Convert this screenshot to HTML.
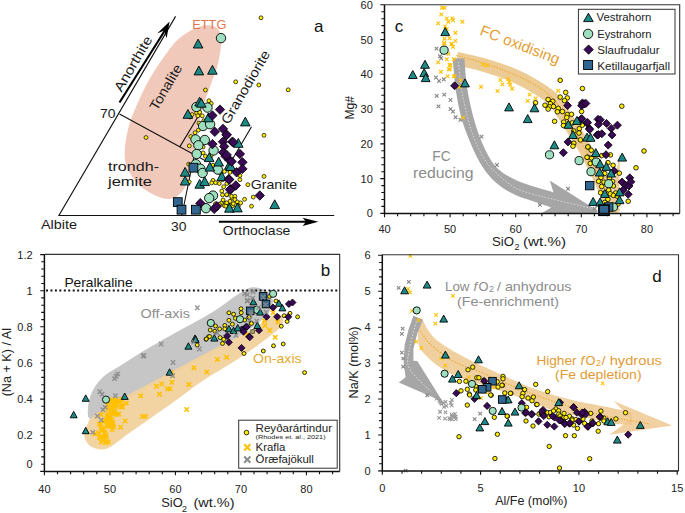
<!DOCTYPE html><html><head><meta charset="utf-8"><style>html,body{margin:0;padding:0;background:#fff;}svg{display:block;}text{font-family:"Liberation Sans",sans-serif;}</style></head><body>
<svg width="685" height="513" viewBox="0 0 685 513">
<rect width="685" height="513" fill="#fff"/>
<path d="M211.0 25.5C214.8 26.1 217.8 28.2 219.5 31.0C221.2 33.8 221.0 38.8 221.2 42.0C221.4 45.2 221.1 46.0 220.5 50.0C219.9 54.0 218.8 61.0 217.5 66.0C216.2 71.0 214.2 75.2 212.5 80.0C210.8 84.8 208.9 89.2 207.0 95.0C205.1 100.8 202.8 107.8 201.0 114.5C199.2 121.2 197.2 128.2 196.0 135.0C194.8 141.8 194.4 148.8 193.5 155.0C192.6 161.2 192.1 166.3 190.5 172.0C188.9 177.7 187.0 184.6 184.0 189.0C181.0 193.4 177.0 197.3 172.4 198.5C167.8 199.7 162.3 198.4 156.6 196.0C150.9 193.6 143.2 189.1 138.2 184.0C133.2 178.9 128.6 171.8 126.4 165.7C124.2 159.6 124.5 154.1 125.0 147.3C125.5 140.5 127.0 132.5 129.2 125.0C131.4 117.5 134.7 109.8 138.0 102.3C141.3 94.8 144.8 87.5 149.0 80.0C153.2 72.5 158.6 64.3 163.5 57.5C168.4 50.7 172.9 44.0 178.5 39.0C184.1 34.0 191.6 29.8 197.0 27.5C202.4 25.2 207.2 24.9 211.0 25.5Z" fill="#F1C9BA"/>
<path d="M175.6 16.4L58.9 215.5H334.2" stroke="#111" stroke-width="1.1" fill="none"/>
<path d="M119.5 113.9L205 160.5M180.1 146.4L199 115M181.8 215.5L194.5 154M251.5 126.7L232 160" stroke="#111" stroke-width="1.1" fill="none"/>
<path d="M119.5 102.5L165.5 29.5" stroke="#000" stroke-width="2.1" fill="none"/>
<path d="M169.6 21.6L157.2 33.5L164.2 30.6L166.6 38.2Z" fill="#000"/>
<path d="M218.9 221.7H306" stroke="#000" stroke-width="2.1" fill="none"/>
<path d="M318.4 221.7L302.6 217.8L306 221.7L302.6 226Z" fill="#000"/>
<text x="41" y="229.4" font-size="13.6" fill="#1a1a1a" text-anchor="start" textLength="36" lengthAdjust="spacingAndGlyphs">Albite</text>
<text x="178.7" y="230.6" font-size="13.6" fill="#1a1a1a" text-anchor="middle" textLength="15.5" lengthAdjust="spacingAndGlyphs">30</text>
<text x="107.8" y="118.0" font-size="13.6" fill="#1a1a1a" text-anchor="middle" textLength="15.5" lengthAdjust="spacingAndGlyphs">70</text>
<text x="222.8" y="235.2" font-size="13.6" fill="#1a1a1a" text-anchor="start" textLength="67.6" lengthAdjust="spacingAndGlyphs">Orthoclase</text>
<text x="209.3" y="28.6" font-size="13.6" fill="#E2774F" text-anchor="middle" textLength="34" lengthAdjust="spacingAndGlyphs">ETTG</text>
<text x="108" y="170.8" font-size="13.6" fill="#1a1a1a" text-anchor="start" textLength="51" lengthAdjust="spacingAndGlyphs">trondh-</text>
<text x="108" y="186.3" font-size="13.6" fill="#1a1a1a" text-anchor="start" textLength="44" lengthAdjust="spacingAndGlyphs">jemite</text>
<text x="250.8" y="189.4" font-size="13.6" fill="#1a1a1a" text-anchor="start" textLength="46.3" lengthAdjust="spacingAndGlyphs">Granite</text>
<text x="137.2" y="66.0" font-size="13.6" fill="#1a1a1a" text-anchor="middle" textLength="62" lengthAdjust="spacingAndGlyphs" transform="rotate(-59.6 137.2 66.0)">Anorthite</text>
<text x="169.8" y="89.6" font-size="13.6" fill="#1a1a1a" text-anchor="middle" textLength="51" lengthAdjust="spacingAndGlyphs" transform="rotate(-59.6 169.8 89.6)">Tonalite</text>
<text x="249.5" y="89.5" font-size="13.6" fill="#1a1a1a" text-anchor="middle" textLength="83" lengthAdjust="spacingAndGlyphs" transform="rotate(-59.6 249.5 89.5)">Granodiorite</text>
<path d="M90.0 419.0C87.2 417.6 87.7 412.0 88.0 407.5C88.3 403.0 89.5 397.1 92.0 392.0C94.5 386.9 97.7 381.8 103.0 377.0C108.3 372.2 116.5 368.1 123.8 363.4C131.1 358.7 137.8 354.4 147.0 349.0C156.2 343.6 168.2 336.9 179.0 330.8C189.8 324.8 202.7 318.1 211.5 312.7C220.3 307.3 226.6 302.1 232.0 298.4C237.4 294.7 241.0 292.4 244.2 290.6C247.4 288.8 248.5 287.9 251.0 287.5C253.5 287.1 256.2 287.2 259.0 288.0C261.8 288.8 265.7 289.7 268.0 292.0C270.3 294.3 273.3 298.0 273.0 302.0C272.7 306.0 271.5 310.3 266.0 316.0C260.5 321.7 252.7 327.8 240.0 336.0C227.3 344.2 206.7 355.7 190.0 365.0C173.3 374.3 154.2 383.5 140.0 392.0C125.8 400.5 113.3 411.5 105.0 416.0C96.7 420.5 92.8 420.4 90.0 419.0Z" fill="#C6C6C6"/>
<path d="M84.5 437.0C83.8 433.2 85.9 427.6 87.5 424.0C89.1 420.4 89.1 419.4 94.0 415.5C98.9 411.6 109.1 405.3 116.8 400.8C124.5 396.3 129.5 394.1 140.0 388.5C150.5 382.9 168.0 373.4 180.0 367.0C192.0 360.6 201.3 355.5 212.0 350.0C222.7 344.5 235.2 338.8 244.0 334.0C252.8 329.2 259.7 324.3 265.0 321.0C270.3 317.7 273.0 314.7 276.0 314.0C279.0 313.3 282.0 315.2 283.0 317.0C284.0 318.8 283.1 322.7 282.0 325.0C280.9 327.3 282.7 325.9 276.4 330.9C270.1 335.9 256.3 346.8 244.2 355.0C232.1 363.2 215.5 372.4 204.0 380.0C192.5 387.6 184.0 394.6 175.3 400.8C166.6 407.0 159.7 411.7 151.9 417.2C144.1 422.7 135.9 428.4 128.5 433.6C121.1 438.8 113.5 446.3 107.4 448.5C101.3 450.7 95.8 448.9 92.0 447.0C88.2 445.1 85.2 440.8 84.5 437.0Z" fill="#F1D29D" fill-opacity="0.95"/>
<path d="M46 290.6H339" stroke="#111" stroke-width="2" stroke-dasharray="2 2.45" fill="none"/>
<text x="64.4" y="286.8" font-size="13" fill="#111" text-anchor="start" textLength="68.3" lengthAdjust="spacingAndGlyphs">Peralkaline</text>
<text x="140.6" y="317.8" font-size="13" fill="#8C8C8C" text-anchor="start" textLength="49.4" lengthAdjust="spacingAndGlyphs">Off-axis</text>
<text x="253" y="363.4" font-size="13" fill="#E6A92C" text-anchor="start" textLength="48.6" lengthAdjust="spacingAndGlyphs">On-axis</text>
<path d="M456.5 58.5C460.8 59.5 472.4 61.7 482.0 64.5C491.6 67.3 504.6 71.5 514.0 75.5C523.4 79.5 531.6 84.3 538.3 88.5C545.0 92.7 549.7 95.6 554.3 100.5C558.9 105.4 561.2 110.6 566.0 118.0C570.8 125.4 577.7 135.7 583.0 145.0C588.3 154.3 593.5 164.5 598.0 174.0C602.5 183.5 607.3 195.5 610.0 202.0C612.7 208.5 613.3 211.2 614.0 213.0" stroke="#EDCB94" stroke-width="13.5" fill="none" stroke-linecap="butt"/>
<path d="M620 152L618.5 213.4L609 213.4Z" fill="#EDCB94"/>
<path d="M456.4 55.5C462.0 57.1 479.0 61.5 490.0 65.3C501.0 69.1 512.8 73.7 522.2 78.2C531.6 82.8 540.0 87.6 546.3 92.6C552.6 97.6 555.2 101.4 560.0 108.0C564.8 114.6 569.7 123.0 575.0 132.0C580.3 141.0 586.8 152.0 592.0 162.0C597.2 172.0 603.7 187.0 606.0 192.0" stroke="#F2A51C" stroke-width="1.1" stroke-dasharray="1.3 1.5" fill="none"/>
<path d="M452.7 58.5C453.2 63.5 454.2 78.8 455.6 88.7C457.1 98.6 458.9 108.9 461.4 118.0C463.9 127.1 467.2 135.3 470.7 143.4C474.2 151.5 478.1 160.1 482.4 166.7C486.7 173.3 491.0 178.3 496.4 183.0C501.8 187.7 508.0 191.5 515.0 194.8C522.0 198.1 532.5 200.9 538.5 203.0C544.5 205.1 549.2 206.8 551.3 207.6L541 213.4L596 213.4L598 211L549.8 180.5L553.5 192.5L550.0 191.3C546.1 190.1 533.8 186.9 526.8 184.3C519.8 181.8 513.5 179.3 508.0 176.0C502.5 172.7 498.3 169.8 494.0 164.4C489.7 159.0 485.7 150.8 482.4 143.4C479.1 136.0 476.7 129.1 474.2 120.0C471.7 110.9 468.9 99.0 467.3 88.7C465.7 78.5 464.9 63.5 464.4 58.5Z" fill="#A6A6A6"/>
<path d="M458.5 62.0C459.0 66.5 459.9 79.2 461.5 88.7C463.1 98.2 465.6 110.0 468.0 119.0C470.4 128.1 472.7 135.4 476.0 143.0C479.3 150.6 483.7 158.6 488.0 164.4C492.3 170.2 497.5 174.1 502.0 178.0C506.5 181.9 510.0 185.1 515.0 187.8C520.0 190.5 526.2 192.2 532.0 194.0C537.8 195.8 540.0 196.1 550.0 198.5C560.0 200.9 585.0 206.8 592.0 208.5" stroke="#E2E2E2" stroke-width="0.9" stroke-dasharray="1.4 1.9" fill="none"/>
<text x="479" y="34.5" font-size="15" fill="#E59F35" text-anchor="start" textLength="84" lengthAdjust="spacingAndGlyphs" transform="rotate(21 479 34.5)">FC oxidising</text>
<text x="441.5" y="161.2" font-size="15" fill="#8C8C8C" text-anchor="middle" textLength="18.4" lengthAdjust="spacingAndGlyphs">FC</text>
<text x="443.2" y="178.2" font-size="15" fill="#8C8C8C" text-anchor="middle" textLength="60.5" lengthAdjust="spacingAndGlyphs">reducing</text>
<path d="M423.2 320.5C423.9 322.0 425.3 326.1 427.5 329.3C429.7 332.5 431.9 336.1 436.3 339.8C440.7 343.5 446.6 347.3 453.9 351.5C461.2 355.7 471.4 360.8 480.2 365.0C489.0 369.2 497.4 373.0 506.5 377.0C515.6 381.0 524.4 385.2 535.0 389.0C545.6 392.8 556.8 396.2 570.0 399.5C583.2 402.8 603.7 406.2 614.0 408.5C624.3 410.8 629.0 412.2 632.0 413.0L632 413L632 425L632.0 425.0C628.7 424.8 619.4 424.7 612.0 423.5C604.6 422.3 597.5 420.2 587.6 418.0C577.7 415.8 562.1 412.8 552.5 410.0C542.9 407.2 536.2 403.8 530.0 401.5C523.8 399.2 522.1 398.4 515.3 396.0C508.5 393.6 497.8 390.2 489.0 387.3C480.2 384.4 469.9 381.3 462.6 378.5C455.3 375.7 450.4 373.7 445.0 370.5C439.6 367.3 434.2 363.4 430.0 359.5C425.8 355.6 421.5 351.9 419.5 347.0C417.5 342.1 418.2 332.8 417.9 330.0Z" fill="#EDCB94" fill-opacity="0.9"/>
<path d="M613.8 401L672.2 425.6L609.3 434.7L631 419Z" fill="#EDC48A" fill-opacity="0.8"/>
<path d="M420.5 331.0C422.2 333.3 425.4 339.9 431.0 345.0C436.6 350.1 445.7 357.0 453.9 361.5C462.1 366.0 471.4 368.3 480.2 372.0C489.0 375.7 495.9 379.2 506.5 383.5C517.1 387.8 528.8 392.9 543.8 398.0C558.8 403.1 578.6 409.7 596.3 414.0C614.0 418.3 641.0 422.3 650.0 424.0" stroke="#F2A51C" stroke-width="1.1" stroke-dasharray="1.3 1.6" fill="none"/>
<path d="M413.4 315.8L423.1 319.7L417.3 333.4L413.4 349L413.4 360.7L417.3 361.1L442.6 401.6L398.8 382.5L405.6 377.3L403.6 362.6L404.6 345L408.5 329.5Z" fill="#A6A6A6"/>
<path d="M416.3 321.7C415.2 326.2 410.6 341.2 409.5 349.0C408.4 356.8 405.9 361.4 409.5 368.5C413.1 375.6 427.4 388.0 431.0 391.9" stroke="#E8E8E8" stroke-width="0.9" stroke-dasharray="1.4 1.9" fill="none"/>
<text x="445" y="291.0" font-size="13.2" fill="#8C8C8C" text-anchor="start" textLength="24.5" lengthAdjust="spacingAndGlyphs">Low</text>
<text x="473.5" y="291.0" font-size="13.2" fill="#8C8C8C" text-anchor="start" font-style="italic">f</text>
<text x="478.5" y="291.0" font-size="13.2" fill="#8C8C8C" text-anchor="start" textLength="10" lengthAdjust="spacingAndGlyphs">O</text>
<text x="489.0" y="292.0" font-size="9" fill="#8C8C8C" text-anchor="start">2</text>
<text x="497" y="291.0" font-size="13.2" fill="#8C8C8C" text-anchor="start" textLength="74.5" lengthAdjust="spacingAndGlyphs">/ anhydrous</text>
<text x="457" y="305.8" font-size="13.2" fill="#8C8C8C" text-anchor="start" textLength="102" lengthAdjust="spacingAndGlyphs">(Fe-enrichment)</text>
<text x="536.5" y="365.0" font-size="13.2" fill="#E39B35" text-anchor="start" textLength="40" lengthAdjust="spacingAndGlyphs">Higher</text>
<text x="580.5" y="365.0" font-size="13.2" fill="#E39B35" text-anchor="start" font-style="italic">f</text>
<text x="585.5" y="365.0" font-size="13.2" fill="#E39B35" text-anchor="start" textLength="10" lengthAdjust="spacingAndGlyphs">O</text>
<text x="596.0" y="366.0" font-size="9" fill="#E39B35" text-anchor="start">2</text>
<text x="601.5" y="365.0" font-size="13.2" fill="#E39B35" text-anchor="start" textLength="60.4" lengthAdjust="spacingAndGlyphs">/ hydrous</text>
<text x="555" y="378.6" font-size="13.2" fill="#E39B35" text-anchor="start" textLength="86.6" lengthAdjust="spacingAndGlyphs">(Fe depletion)</text>
<path d="M434.7 46.8L438.3 50.4M438.3 46.8L434.7 50.4" stroke="#858585" stroke-width="1.1" fill="none"/>
<path d="M438.2 54.5L441.8 58.1M441.8 54.5L438.2 58.1" stroke="#858585" stroke-width="1.1" fill="none"/>
<path d="M439.4 56.5L443.0 60.1M443.0 56.5L439.4 60.1" stroke="#858585" stroke-width="1.1" fill="none"/>
<path d="M434.1 75.7L437.7 79.3M437.7 75.7L434.1 79.3" stroke="#858585" stroke-width="1.1" fill="none"/>
<path d="M437.2 79.2L440.8 82.8M440.8 79.2L437.2 82.8" stroke="#858585" stroke-width="1.1" fill="none"/>
<path d="M442.0 77.5L445.6 81.1M445.6 77.5L442.0 81.1" stroke="#858585" stroke-width="1.1" fill="none"/>
<path d="M434.9 94.1L438.5 97.7M438.5 94.1L434.9 97.7" stroke="#858585" stroke-width="1.1" fill="none"/>
<path d="M442.5 92.8L446.1 96.4M446.1 92.8L442.5 96.4" stroke="#858585" stroke-width="1.1" fill="none"/>
<path d="M436.7 104.6L440.3 108.2M440.3 104.6L436.7 108.2" stroke="#858585" stroke-width="1.1" fill="none"/>
<path d="M448.7 98.2L452.3 101.8M452.3 98.2L448.7 101.8" stroke="#858585" stroke-width="1.1" fill="none"/>
<path d="M448.7 107.3L452.3 110.9M452.3 107.3L448.7 110.9" stroke="#858585" stroke-width="1.1" fill="none"/>
<path d="M451.2 109.7L454.8 113.3M454.8 109.7L451.2 113.3" stroke="#858585" stroke-width="1.1" fill="none"/>
<path d="M453.7 115.5L457.3 119.1M457.3 115.5L453.7 119.1" stroke="#858585" stroke-width="1.1" fill="none"/>
<path d="M458.7 118.0L462.3 121.6M462.3 118.0L458.7 121.6" stroke="#858585" stroke-width="1.1" fill="none"/>
<path d="M479.7 134.8L483.3 138.4M483.3 134.8L479.7 138.4" stroke="#858585" stroke-width="1.1" fill="none"/>
<path d="M495.1 163.2L498.7 166.8M498.7 163.2L495.1 166.8" stroke="#858585" stroke-width="1.1" fill="none"/>
<path d="M592.9 206.8L596.5 210.4M596.5 206.8L592.9 210.4" stroke="#858585" stroke-width="1.1" fill="none"/>
<path d="M566.2 187.0L569.8 190.6M569.8 187.0L566.2 190.6" stroke="#858585" stroke-width="1.1" fill="none"/>
<path d="M538.1 203.0L541.7 206.6M541.7 203.0L538.1 206.6" stroke="#858585" stroke-width="1.1" fill="none"/>
<path d="M440.3 6.0L443.9 9.6M443.9 6.0L440.3 9.6" stroke="#FFC000" stroke-width="1.1" fill="none"/>
<path d="M442.7 6.0L446.3 9.6M446.3 6.0L442.7 9.6" stroke="#FFC000" stroke-width="1.1" fill="none"/>
<path d="M439.5 12.6L443.1 16.2M443.1 12.6L439.5 16.2" stroke="#FFC000" stroke-width="1.1" fill="none"/>
<path d="M445.0 16.6L448.6 20.2M448.6 16.6L445.0 20.2" stroke="#FFC000" stroke-width="1.1" fill="none"/>
<path d="M450.5 16.6L454.1 20.2M454.1 16.6L450.5 20.2" stroke="#FFC000" stroke-width="1.1" fill="none"/>
<path d="M451.2 18.5L454.8 22.1M454.8 18.5L451.2 22.1" stroke="#FFC000" stroke-width="1.1" fill="none"/>
<path d="M446.6 20.0L450.2 23.6M450.2 20.0L446.6 23.6" stroke="#FFC000" stroke-width="1.1" fill="none"/>
<path d="M460.6 20.0L464.2 23.6M464.2 20.0L460.6 23.6" stroke="#FFC000" stroke-width="1.1" fill="none"/>
<path d="M436.4 21.6L440.0 25.2M440.0 21.6L436.4 25.2" stroke="#FFC000" stroke-width="1.1" fill="none"/>
<path d="M443.4 24.7L447.0 28.3M447.0 24.7L443.4 28.3" stroke="#FFC000" stroke-width="1.1" fill="none"/>
<path d="M445.0 27.1L448.6 30.7M448.6 27.1L445.0 30.7" stroke="#FFC000" stroke-width="1.1" fill="none"/>
<path d="M453.6 31.0L457.2 34.6M457.2 31.0L453.6 34.6" stroke="#FFC000" stroke-width="1.1" fill="none"/>
<path d="M442.7 36.9L446.3 40.5M446.3 36.9L442.7 40.5" stroke="#FFC000" stroke-width="1.1" fill="none"/>
<path d="M447.8 36.4L451.4 40.0M451.4 36.4L447.8 40.0" stroke="#FFC000" stroke-width="1.1" fill="none"/>
<path d="M453.6 39.1L457.2 42.7M457.2 39.1L453.6 42.7" stroke="#FFC000" stroke-width="1.1" fill="none"/>
<path d="M442.7 41.9L446.3 45.5M446.3 41.9L442.7 45.5" stroke="#FFC000" stroke-width="1.1" fill="none"/>
<path d="M449.7 42.2L453.3 45.8M453.3 42.2L449.7 45.8" stroke="#FFC000" stroke-width="1.1" fill="none"/>
<path d="M451.2 45.0L454.8 48.6M454.8 45.0L451.2 48.6" stroke="#FFC000" stroke-width="1.1" fill="none"/>
<path d="M446.6 52.0L450.2 55.6M450.2 52.0L446.6 55.6" stroke="#FFC000" stroke-width="1.1" fill="none"/>
<path d="M445.0 57.5L448.6 61.1M448.6 57.5L445.0 61.1" stroke="#FFC000" stroke-width="1.1" fill="none"/>
<path d="M452.0 57.5L455.6 61.1M455.6 57.5L452.0 61.1" stroke="#FFC000" stroke-width="1.1" fill="none"/>
<path d="M436.4 60.6L440.0 64.2M440.0 60.6L436.4 64.2" stroke="#FFC000" stroke-width="1.1" fill="none"/>
<path d="M447.8 62.9L451.4 66.5M451.4 62.9L447.8 66.5" stroke="#FFC000" stroke-width="1.1" fill="none"/>
<path d="M448.1 67.6L451.7 71.2M451.7 67.6L448.1 71.2" stroke="#FFC000" stroke-width="1.1" fill="none"/>
<path d="M439.1 70.0L442.7 73.6M442.7 70.0L439.1 73.6" stroke="#FFC000" stroke-width="1.1" fill="none"/>
<path d="M445.8 74.6L449.4 78.2M449.4 74.6L445.8 78.2" stroke="#FFC000" stroke-width="1.1" fill="none"/>
<path d="M452.0 74.6L455.6 78.2M455.6 74.6L452.0 78.2" stroke="#FFC000" stroke-width="1.1" fill="none"/>
<path d="M442.1 41.1L445.7 44.7M445.7 41.1L442.1 44.7" stroke="#FFC000" stroke-width="1.1" fill="none"/>
<path d="M449.9 42.1L453.5 45.7M453.5 42.1L449.9 45.7" stroke="#FFC000" stroke-width="1.1" fill="none"/>
<path d="M448.9 63.5L452.5 67.1M452.5 63.5L448.9 67.1" stroke="#FFC000" stroke-width="1.1" fill="none"/>
<path d="M447.0 67.4L450.6 71.0M450.6 67.4L447.0 71.0" stroke="#FFC000" stroke-width="1.1" fill="none"/>
<path d="M452.8 74.2L456.4 77.8M456.4 74.2L452.8 77.8" stroke="#FFC000" stroke-width="1.1" fill="none"/>
<path d="M458.7 78.2L462.3 81.8M462.3 78.2L458.7 81.8" stroke="#FFC000" stroke-width="1.1" fill="none"/>
<path d="M457.7 85.0L461.3 88.6M461.3 85.0L457.7 88.6" stroke="#FFC000" stroke-width="1.1" fill="none"/>
<path d="M479.2 85.0L482.8 88.6M482.8 85.0L479.2 88.6" stroke="#FFC000" stroke-width="1.1" fill="none"/>
<path d="M481.1 62.6L484.7 66.2M484.7 62.6L481.1 66.2" stroke="#FFC000" stroke-width="1.1" fill="none"/>
<path d="M485.0 63.5L488.6 67.1M488.6 63.5L485.0 67.1" stroke="#FFC000" stroke-width="1.1" fill="none"/>
<path d="M498.6 78.2L502.2 81.8M502.2 78.2L498.6 81.8" stroke="#FFC000" stroke-width="1.1" fill="none"/>
<path d="M506.4 77.2L510.0 80.8M510.0 77.2L506.4 80.8" stroke="#FFC000" stroke-width="1.1" fill="none"/>
<path d="M507.4 80.1L511.0 83.7M511.0 80.1L507.4 83.7" stroke="#FFC000" stroke-width="1.1" fill="none"/>
<path d="M500.6 82.6L504.2 86.2M504.2 82.6L500.6 86.2" stroke="#FFC000" stroke-width="1.1" fill="none"/>
<path d="M508.4 83.0L512.0 86.6M512.0 83.0L508.4 86.6" stroke="#FFC000" stroke-width="1.1" fill="none"/>
<path d="M510.3 86.9L513.9 90.5M513.9 86.9L510.3 90.5" stroke="#FFC000" stroke-width="1.1" fill="none"/>
<path d="M495.7 89.2L499.3 92.8M499.3 89.2L495.7 92.8" stroke="#FFC000" stroke-width="1.1" fill="none"/>
<path d="M527.9 92.8L531.5 96.4M531.5 92.8L527.9 96.4" stroke="#FFC000" stroke-width="1.1" fill="none"/>
<path d="M533.7 96.7L537.3 100.3M537.3 96.7L533.7 100.3" stroke="#FFC000" stroke-width="1.1" fill="none"/>
<path d="M525.9 99.2L529.5 102.8M529.5 99.2L525.9 102.8" stroke="#FFC000" stroke-width="1.1" fill="none"/>
<path d="M461.2 115.8L464.8 119.4M464.8 115.8L461.2 119.4" stroke="#FFC000" stroke-width="1.1" fill="none"/>
<path d="M556.4 88.9L560.0 92.5M560.0 88.9L556.4 92.5" stroke="#FFC000" stroke-width="1.1" fill="none"/>
<circle cx="535.5" cy="102.8" r="2.30" fill="#FFEE00" stroke="#000" stroke-width="0.8"/>
<circle cx="560.2" cy="80.3" r="2.30" fill="#FFEE00" stroke="#000" stroke-width="0.8"/>
<circle cx="582.4" cy="88.5" r="2.30" fill="#FFEE00" stroke="#000" stroke-width="0.8"/>
<circle cx="565.7" cy="92.4" r="2.30" fill="#FFEE00" stroke="#000" stroke-width="0.8"/>
<circle cx="560.2" cy="97.1" r="2.30" fill="#FFEE00" stroke="#000" stroke-width="0.8"/>
<circle cx="567.3" cy="97.9" r="2.30" fill="#FFEE00" stroke="#000" stroke-width="0.8"/>
<circle cx="548.1" cy="99.5" r="2.30" fill="#FFEE00" stroke="#000" stroke-width="0.8"/>
<circle cx="552.8" cy="101.3" r="2.30" fill="#FFEE00" stroke="#000" stroke-width="0.8"/>
<circle cx="545.0" cy="105.2" r="2.30" fill="#FFEE00" stroke="#000" stroke-width="0.8"/>
<circle cx="550.4" cy="103.7" r="2.30" fill="#FFEE00" stroke="#000" stroke-width="0.8"/>
<circle cx="549.6" cy="106.8" r="2.30" fill="#FFEE00" stroke="#000" stroke-width="0.8"/>
<circle cx="553.5" cy="106.5" r="2.30" fill="#FFEE00" stroke="#000" stroke-width="0.8"/>
<circle cx="548.1" cy="109.1" r="2.30" fill="#FFEE00" stroke="#000" stroke-width="0.8"/>
<circle cx="558.2" cy="108.4" r="2.30" fill="#FFEE00" stroke="#000" stroke-width="0.8"/>
<circle cx="557.4" cy="111.8" r="2.30" fill="#FFEE00" stroke="#000" stroke-width="0.8"/>
<circle cx="562.4" cy="111.5" r="2.30" fill="#FFEE00" stroke="#000" stroke-width="0.8"/>
<circle cx="564.5" cy="100.6" r="2.30" fill="#FFEE00" stroke="#000" stroke-width="0.8"/>
<circle cx="581.6" cy="111.5" r="2.30" fill="#FFEE00" stroke="#000" stroke-width="0.8"/>
<circle cx="567.3" cy="114.6" r="2.30" fill="#FFEE00" stroke="#000" stroke-width="0.8"/>
<circle cx="571.5" cy="114.3" r="2.30" fill="#FFEE00" stroke="#000" stroke-width="0.8"/>
<circle cx="566.8" cy="117.4" r="2.30" fill="#FFEE00" stroke="#000" stroke-width="0.8"/>
<circle cx="554.6" cy="121.3" r="2.30" fill="#FFEE00" stroke="#000" stroke-width="0.8"/>
<circle cx="563.7" cy="122.1" r="2.30" fill="#FFEE00" stroke="#000" stroke-width="0.8"/>
<circle cx="563.4" cy="125.5" r="2.30" fill="#FFEE00" stroke="#000" stroke-width="0.8"/>
<circle cx="572.3" cy="122.9" r="2.30" fill="#FFEE00" stroke="#000" stroke-width="0.8"/>
<circle cx="582.4" cy="124.0" r="2.30" fill="#FFEE00" stroke="#000" stroke-width="0.8"/>
<circle cx="579.3" cy="128.6" r="2.30" fill="#FFEE00" stroke="#000" stroke-width="0.8"/>
<circle cx="579.0" cy="133.0" r="2.30" fill="#FFEE00" stroke="#000" stroke-width="0.8"/>
<circle cx="573.8" cy="131.0" r="2.30" fill="#FFEE00" stroke="#000" stroke-width="0.8"/>
<circle cx="621.8" cy="106.2" r="2.30" fill="#FFEE00" stroke="#000" stroke-width="0.8"/>
<circle cx="582.3" cy="125.2" r="2.30" fill="#FFEE00" stroke="#000" stroke-width="0.8"/>
<circle cx="644.0" cy="151.0" r="2.30" fill="#FFEE00" stroke="#000" stroke-width="0.8"/>
<circle cx="588.1" cy="147.0" r="2.30" fill="#FFEE00" stroke="#000" stroke-width="0.8"/>
<circle cx="591.2" cy="150.2" r="2.30" fill="#FFEE00" stroke="#000" stroke-width="0.8"/>
<circle cx="587.8" cy="157.2" r="2.30" fill="#FFEE00" stroke="#000" stroke-width="0.8"/>
<circle cx="591.7" cy="158.0" r="2.30" fill="#FFEE00" stroke="#000" stroke-width="0.8"/>
<circle cx="610.4" cy="154.9" r="2.30" fill="#FFEE00" stroke="#000" stroke-width="0.8"/>
<circle cx="636.0" cy="167.8" r="2.30" fill="#FFEE00" stroke="#000" stroke-width="0.8"/>
<circle cx="613.1" cy="165.3" r="2.30" fill="#FFEE00" stroke="#000" stroke-width="0.8"/>
<circle cx="619.3" cy="173.2" r="2.30" fill="#FFEE00" stroke="#000" stroke-width="0.8"/>
<circle cx="601.7" cy="155.6" r="2.30" fill="#FFEE00" stroke="#000" stroke-width="0.8"/>
<circle cx="608.0" cy="162.6" r="2.30" fill="#FFEE00" stroke="#000" stroke-width="0.8"/>
<circle cx="604.8" cy="173.5" r="2.30" fill="#FFEE00" stroke="#000" stroke-width="0.8"/>
<circle cx="600.9" cy="177.4" r="2.30" fill="#FFEE00" stroke="#000" stroke-width="0.8"/>
<circle cx="598.6" cy="181.3" r="2.30" fill="#FFEE00" stroke="#000" stroke-width="0.8"/>
<circle cx="604.0" cy="182.1" r="2.30" fill="#FFEE00" stroke="#000" stroke-width="0.8"/>
<circle cx="609.5" cy="178.2" r="2.30" fill="#FFEE00" stroke="#000" stroke-width="0.8"/>
<circle cx="612.6" cy="181.3" r="2.30" fill="#FFEE00" stroke="#000" stroke-width="0.8"/>
<circle cx="601.7" cy="186.5" r="2.30" fill="#FFEE00" stroke="#000" stroke-width="0.8"/>
<circle cx="600.6" cy="192.7" r="2.30" fill="#FFEE00" stroke="#000" stroke-width="0.8"/>
<circle cx="608.7" cy="190.0" r="2.30" fill="#FFEE00" stroke="#000" stroke-width="0.8"/>
<circle cx="610.3" cy="193.8" r="2.30" fill="#FFEE00" stroke="#000" stroke-width="0.8"/>
<circle cx="613.4" cy="186.0" r="2.30" fill="#FFEE00" stroke="#000" stroke-width="0.8"/>
<circle cx="615.7" cy="193.0" r="2.30" fill="#FFEE00" stroke="#000" stroke-width="0.8"/>
<circle cx="613.4" cy="195.4" r="2.30" fill="#FFEE00" stroke="#000" stroke-width="0.8"/>
<circle cx="628.2" cy="201.3" r="2.30" fill="#FFEE00" stroke="#000" stroke-width="0.8"/>
<circle cx="607.9" cy="199.3" r="2.30" fill="#FFEE00" stroke="#000" stroke-width="0.8"/>
<circle cx="604.8" cy="202.4" r="2.30" fill="#FFEE00" stroke="#000" stroke-width="0.8"/>
<circle cx="618.1" cy="204.0" r="2.30" fill="#FFEE00" stroke="#000" stroke-width="0.8"/>
<circle cx="617.3" cy="196.2" r="2.30" fill="#FFEE00" stroke="#000" stroke-width="0.8"/>
<circle cx="590.3" cy="163.4" r="2.30" fill="#FFEE00" stroke="#000" stroke-width="0.8"/>
<circle cx="580.4" cy="139.9" r="2.30" fill="#FFEE00" stroke="#000" stroke-width="0.8"/>
<circle cx="573.8" cy="143.2" r="2.30" fill="#FFEE00" stroke="#000" stroke-width="0.8"/>
<circle cx="573.0" cy="146.2" r="2.30" fill="#FFEE00" stroke="#000" stroke-width="0.8"/>
<circle cx="587.9" cy="146.9" r="2.30" fill="#FFEE00" stroke="#000" stroke-width="0.8"/>
<circle cx="587.0" cy="157.3" r="2.30" fill="#FFEE00" stroke="#000" stroke-width="0.8"/>
<circle cx="444.1" cy="50.2" r="4.10" fill="#9EDFC0" stroke="#000" stroke-width="0.9"/>
<circle cx="596.2" cy="162.0" r="4.10" fill="#9EDFC0" stroke="#000" stroke-width="0.9"/>
<circle cx="591.0" cy="171.7" r="4.10" fill="#9EDFC0" stroke="#000" stroke-width="0.9"/>
<circle cx="608.7" cy="183.7" r="4.10" fill="#9EDFC0" stroke="#000" stroke-width="0.9"/>
<circle cx="613.4" cy="207.0" r="4.10" fill="#9EDFC0" stroke="#000" stroke-width="0.9"/>
<circle cx="549.5" cy="154.8" r="4.10" fill="#9EDFC0" stroke="#000" stroke-width="0.9"/>
<circle cx="579.1" cy="160.6" r="4.10" fill="#9EDFC0" stroke="#000" stroke-width="0.9"/>
<path d="M454.6 81.8L458.6 85.8L454.6 89.8L450.6 85.8Z" fill="#3B0A57" stroke="#000" stroke-width="0.8"/>
<path d="M567.6 101.6L571.6 105.6L567.6 109.6L563.6 105.6Z" fill="#3B0A57" stroke="#000" stroke-width="0.8"/>
<path d="M582.4 98.9L586.4 102.9L582.4 106.9L578.4 102.9Z" fill="#3B0A57" stroke="#000" stroke-width="0.8"/>
<path d="M581.6 101.6L585.6 105.6L581.6 109.6L577.6 105.6Z" fill="#3B0A57" stroke="#000" stroke-width="0.8"/>
<path d="M584.7 99.7L588.7 103.7L584.7 107.7L580.7 103.7Z" fill="#3B0A57" stroke="#000" stroke-width="0.8"/>
<path d="M580.8 115.3L584.8 119.3L580.8 123.3L576.8 119.3Z" fill="#3B0A57" stroke="#000" stroke-width="0.8"/>
<path d="M587.0 119.2L591.0 123.2L587.0 127.2L583.0 123.2Z" fill="#3B0A57" stroke="#000" stroke-width="0.8"/>
<path d="M589.4 124.6L593.4 128.6L589.4 132.6L585.4 128.6Z" fill="#3B0A57" stroke="#000" stroke-width="0.8"/>
<path d="M598.0 115.3L602.0 119.3L598.0 123.3L594.0 119.3Z" fill="#3B0A57" stroke="#000" stroke-width="0.8"/>
<path d="M597.2 130.9L601.2 134.9L597.2 138.9L593.2 134.9Z" fill="#3B0A57" stroke="#000" stroke-width="0.8"/>
<path d="M583.1 100.2L587.1 104.2L583.1 108.2L579.1 104.2Z" fill="#3B0A57" stroke="#000" stroke-width="0.8"/>
<path d="M585.9 99.4L589.9 103.4L585.9 107.4L581.9 103.4Z" fill="#3B0A57" stroke="#000" stroke-width="0.8"/>
<path d="M581.9 114.7L585.9 118.7L581.9 122.7L577.9 118.7Z" fill="#3B0A57" stroke="#000" stroke-width="0.8"/>
<path d="M587.5 118.4L591.5 122.4L587.5 126.4L583.5 122.4Z" fill="#3B0A57" stroke="#000" stroke-width="0.8"/>
<path d="M589.7 125.6L593.7 129.6L589.7 133.6L585.7 129.6Z" fill="#3B0A57" stroke="#000" stroke-width="0.8"/>
<path d="M600.3 115.8L604.3 119.8L600.3 123.8L596.3 119.8Z" fill="#3B0A57" stroke="#000" stroke-width="0.8"/>
<path d="M598.4 120.5L602.4 124.5L598.4 128.5L594.4 124.5Z" fill="#3B0A57" stroke="#000" stroke-width="0.8"/>
<path d="M606.5 119.4L610.5 123.4L606.5 127.4L602.5 123.4Z" fill="#3B0A57" stroke="#000" stroke-width="0.8"/>
<path d="M611.2 124.4L615.2 128.4L611.2 132.4L607.2 128.4Z" fill="#3B0A57" stroke="#000" stroke-width="0.8"/>
<path d="M617.4 121.2L621.4 125.2L617.4 129.2L613.4 125.2Z" fill="#3B0A57" stroke="#000" stroke-width="0.8"/>
<path d="M598.4 130.6L602.4 134.6L598.4 138.6L594.4 134.6Z" fill="#3B0A57" stroke="#000" stroke-width="0.8"/>
<path d="M601.8 129.8L605.8 133.8L601.8 137.8L597.8 133.8Z" fill="#3B0A57" stroke="#000" stroke-width="0.8"/>
<path d="M612.0 130.9L616.0 134.9L612.0 138.9L608.0 134.9Z" fill="#3B0A57" stroke="#000" stroke-width="0.8"/>
<path d="M608.2 141.1L612.2 145.1L608.2 149.1L604.2 145.1Z" fill="#3B0A57" stroke="#000" stroke-width="0.8"/>
<path d="M606.0 150.7L610.0 154.7L606.0 158.7L602.0 154.7Z" fill="#3B0A57" stroke="#000" stroke-width="0.8"/>
<path d="M614.2 166.9L618.2 170.9L614.2 174.9L610.2 170.9Z" fill="#3B0A57" stroke="#000" stroke-width="0.8"/>
<path d="M629.8 173.8L633.8 177.8L629.8 181.8L625.8 177.8Z" fill="#3B0A57" stroke="#000" stroke-width="0.8"/>
<path d="M622.0 178.1L626.0 182.1L622.0 186.1L618.0 182.1Z" fill="#3B0A57" stroke="#000" stroke-width="0.8"/>
<path d="M625.6 181.6L629.6 185.6L625.6 189.6L621.6 185.6Z" fill="#3B0A57" stroke="#000" stroke-width="0.8"/>
<path d="M629.0 182.0L633.0 186.0L629.0 190.0L625.0 186.0Z" fill="#3B0A57" stroke="#000" stroke-width="0.8"/>
<path d="M623.1 186.0L627.1 190.0L623.1 194.0L619.1 190.0Z" fill="#3B0A57" stroke="#000" stroke-width="0.8"/>
<path d="M628.2 190.3L632.2 194.3L628.2 198.3L624.2 194.3Z" fill="#3B0A57" stroke="#000" stroke-width="0.8"/>
<path d="M630.9 177.8L634.9 181.8L630.9 185.8L626.9 181.8Z" fill="#3B0A57" stroke="#000" stroke-width="0.8"/>
<path d="M568.0 137.9L572.0 141.9L568.0 145.9L564.0 141.9Z" fill="#3B0A57" stroke="#000" stroke-width="0.8"/>
<path d="M563.4 148.7L567.4 152.7L563.4 156.7L559.4 152.7Z" fill="#3B0A57" stroke="#000" stroke-width="0.8"/>
<path d="M445.2 27.6L449.6 35.6L440.8 35.6Z" fill="#1D8A87" stroke="#000" stroke-width="0.9"/>
<path d="M425.0 60.3L429.4 68.3L420.6 68.3Z" fill="#1D8A87" stroke="#000" stroke-width="0.9"/>
<path d="M424.2 68.6L428.6 76.6L419.8 76.6Z" fill="#1D8A87" stroke="#000" stroke-width="0.9"/>
<path d="M412.8 70.5L417.2 78.5L408.4 78.5Z" fill="#1D8A87" stroke="#000" stroke-width="0.9"/>
<path d="M425.7 73.6L430.1 81.6L421.3 81.6Z" fill="#1D8A87" stroke="#000" stroke-width="0.9"/>
<path d="M465.0 78.9L469.4 86.9L460.6 86.9Z" fill="#1D8A87" stroke="#000" stroke-width="0.9"/>
<path d="M509.0 102.9L513.4 110.9L504.6 110.9Z" fill="#1D8A87" stroke="#000" stroke-width="0.9"/>
<path d="M527.7 114.6L532.1 122.6L523.3 122.6Z" fill="#1D8A87" stroke="#000" stroke-width="0.9"/>
<path d="M534.5 103.8L538.9 111.8L530.1 111.8Z" fill="#1D8A87" stroke="#000" stroke-width="0.9"/>
<path d="M568.4 120.3L572.8 128.3L564.0 128.3Z" fill="#1D8A87" stroke="#000" stroke-width="0.9"/>
<path d="M576.9 116.4L581.3 124.4L572.5 124.4Z" fill="#1D8A87" stroke="#000" stroke-width="0.9"/>
<path d="M573.0 130.5L577.4 138.5L568.6 138.5Z" fill="#1D8A87" stroke="#000" stroke-width="0.9"/>
<path d="M587.0 133.1L591.4 141.1L582.6 141.1Z" fill="#1D8A87" stroke="#000" stroke-width="0.9"/>
<path d="M590.6 133.3L595.0 141.3L586.2 141.3Z" fill="#1D8A87" stroke="#000" stroke-width="0.9"/>
<path d="M595.8 148.6L600.2 156.6L591.4 156.6Z" fill="#1D8A87" stroke="#000" stroke-width="0.9"/>
<path d="M622.2 153.1L626.6 161.1L617.8 161.1Z" fill="#1D8A87" stroke="#000" stroke-width="0.9"/>
<path d="M600.1 159.8L604.5 167.8L595.7 167.8Z" fill="#1D8A87" stroke="#000" stroke-width="0.9"/>
<path d="M606.4 162.4L610.8 170.4L602.0 170.4Z" fill="#1D8A87" stroke="#000" stroke-width="0.9"/>
<path d="M599.7 168.0L604.1 176.0L595.3 176.0Z" fill="#1D8A87" stroke="#000" stroke-width="0.9"/>
<path d="M611.1 169.1L615.5 177.1L606.7 177.1Z" fill="#1D8A87" stroke="#000" stroke-width="0.9"/>
<path d="M604.8 189.4L609.2 197.4L600.4 197.4Z" fill="#1D8A87" stroke="#000" stroke-width="0.9"/>
<path d="M619.6 187.9L624.0 195.9L615.2 195.9Z" fill="#1D8A87" stroke="#000" stroke-width="0.9"/>
<path d="M619.6 195.7L624.0 203.7L615.2 203.7Z" fill="#1D8A87" stroke="#000" stroke-width="0.9"/>
<path d="M593.1 197.4L597.5 205.4L588.7 205.4Z" fill="#1D8A87" stroke="#000" stroke-width="0.9"/>
<path d="M600.1 198.0L604.5 206.0L595.7 206.0Z" fill="#1D8A87" stroke="#000" stroke-width="0.9"/>
<path d="M554.4 140.8L558.8 148.8L550.0 148.8Z" fill="#1D8A87" stroke="#000" stroke-width="0.9"/>
<rect x="585.5" y="181.4" width="8.4" height="8.4" fill="#30668F" stroke="#000" stroke-width="0.9"/>
<rect x="604.5" y="202.8" width="8.4" height="8.4" fill="#30668F" stroke="#000" stroke-width="0.9"/>
<rect x="598.9" y="205.1" width="10.2" height="10.2" fill="#30668F" stroke="#000" stroke-width="1.6"/>
<circle cx="261.0" cy="17.8" r="1.95" fill="#FFEE00" stroke="#000" stroke-width="0.7"/>
<circle cx="235.7" cy="81.8" r="1.95" fill="#FFEE00" stroke="#000" stroke-width="0.7"/>
<circle cx="258.8" cy="85.0" r="1.95" fill="#FFEE00" stroke="#000" stroke-width="0.7"/>
<circle cx="288.2" cy="89.8" r="1.95" fill="#FFEE00" stroke="#000" stroke-width="0.7"/>
<circle cx="205.4" cy="90.0" r="1.95" fill="#FFEE00" stroke="#000" stroke-width="0.7"/>
<circle cx="146.0" cy="137.5" r="1.95" fill="#FFEE00" stroke="#000" stroke-width="0.7"/>
<circle cx="208.9" cy="100.8" r="1.95" fill="#FFEE00" stroke="#000" stroke-width="0.7"/>
<circle cx="211.2" cy="103.5" r="1.95" fill="#FFEE00" stroke="#000" stroke-width="0.7"/>
<circle cx="192.0" cy="114.6" r="1.95" fill="#FFEE00" stroke="#000" stroke-width="0.7"/>
<circle cx="190.0" cy="117.0" r="1.95" fill="#FFEE00" stroke="#000" stroke-width="0.7"/>
<circle cx="196.6" cy="112.8" r="1.95" fill="#FFEE00" stroke="#000" stroke-width="0.7"/>
<circle cx="199.6" cy="112.3" r="1.95" fill="#FFEE00" stroke="#000" stroke-width="0.7"/>
<circle cx="197.8" cy="115.8" r="1.95" fill="#FFEE00" stroke="#000" stroke-width="0.7"/>
<circle cx="202.3" cy="115.8" r="1.95" fill="#FFEE00" stroke="#000" stroke-width="0.7"/>
<circle cx="203.7" cy="120.7" r="1.95" fill="#FFEE00" stroke="#000" stroke-width="0.7"/>
<circle cx="199.0" cy="123.1" r="1.95" fill="#FFEE00" stroke="#000" stroke-width="0.7"/>
<circle cx="198.4" cy="130.1" r="1.95" fill="#FFEE00" stroke="#000" stroke-width="0.7"/>
<circle cx="195.1" cy="132.7" r="1.95" fill="#FFEE00" stroke="#000" stroke-width="0.7"/>
<circle cx="190.8" cy="136.5" r="1.95" fill="#FFEE00" stroke="#000" stroke-width="0.7"/>
<circle cx="189.3" cy="145.9" r="1.95" fill="#FFEE00" stroke="#000" stroke-width="0.7"/>
<circle cx="203.1" cy="147.0" r="1.95" fill="#FFEE00" stroke="#000" stroke-width="0.7"/>
<circle cx="203.1" cy="152.9" r="1.95" fill="#FFEE00" stroke="#000" stroke-width="0.7"/>
<circle cx="205.4" cy="156.3" r="1.95" fill="#FFEE00" stroke="#000" stroke-width="0.7"/>
<circle cx="211.1" cy="155.7" r="1.95" fill="#FFEE00" stroke="#000" stroke-width="0.7"/>
<circle cx="213.0" cy="165.2" r="1.95" fill="#FFEE00" stroke="#000" stroke-width="0.7"/>
<circle cx="188.7" cy="164.2" r="1.95" fill="#FFEE00" stroke="#000" stroke-width="0.7"/>
<circle cx="189.2" cy="181.9" r="1.95" fill="#FFEE00" stroke="#000" stroke-width="0.7"/>
<circle cx="213.0" cy="180.4" r="1.95" fill="#FFEE00" stroke="#000" stroke-width="0.7"/>
<circle cx="211.7" cy="182.9" r="1.95" fill="#FFEE00" stroke="#000" stroke-width="0.7"/>
<circle cx="215.5" cy="182.7" r="1.95" fill="#FFEE00" stroke="#000" stroke-width="0.7"/>
<circle cx="219.3" cy="183.5" r="1.95" fill="#FFEE00" stroke="#000" stroke-width="0.7"/>
<circle cx="222.5" cy="179.7" r="1.95" fill="#FFEE00" stroke="#000" stroke-width="0.7"/>
<circle cx="220.6" cy="173.4" r="1.95" fill="#FFEE00" stroke="#000" stroke-width="0.7"/>
<circle cx="224.4" cy="171.5" r="1.95" fill="#FFEE00" stroke="#000" stroke-width="0.7"/>
<circle cx="230.0" cy="171.5" r="1.95" fill="#FFEE00" stroke="#000" stroke-width="0.7"/>
<circle cx="226.9" cy="183.5" r="1.95" fill="#FFEE00" stroke="#000" stroke-width="0.7"/>
<circle cx="223.7" cy="186.7" r="1.95" fill="#FFEE00" stroke="#000" stroke-width="0.7"/>
<circle cx="221.8" cy="191.1" r="1.95" fill="#FFEE00" stroke="#000" stroke-width="0.7"/>
<circle cx="222.5" cy="194.9" r="1.95" fill="#FFEE00" stroke="#000" stroke-width="0.7"/>
<circle cx="226.9" cy="194.9" r="1.95" fill="#FFEE00" stroke="#000" stroke-width="0.7"/>
<circle cx="232.0" cy="198.1" r="1.95" fill="#FFEE00" stroke="#000" stroke-width="0.7"/>
<circle cx="223.1" cy="200.0" r="1.95" fill="#FFEE00" stroke="#000" stroke-width="0.7"/>
<circle cx="225.6" cy="203.2" r="1.95" fill="#FFEE00" stroke="#000" stroke-width="0.7"/>
<circle cx="229.4" cy="204.4" r="1.95" fill="#FFEE00" stroke="#000" stroke-width="0.7"/>
<circle cx="221.2" cy="203.2" r="1.95" fill="#FFEE00" stroke="#000" stroke-width="0.7"/>
<circle cx="215.5" cy="203.8" r="1.95" fill="#FFEE00" stroke="#000" stroke-width="0.7"/>
<circle cx="219.3" cy="204.4" r="1.95" fill="#FFEE00" stroke="#000" stroke-width="0.7"/>
<circle cx="224.4" cy="205.7" r="1.95" fill="#FFEE00" stroke="#000" stroke-width="0.7"/>
<circle cx="232.6" cy="205.7" r="1.95" fill="#FFEE00" stroke="#000" stroke-width="0.7"/>
<circle cx="264.0" cy="135.3" r="1.95" fill="#FFEE00" stroke="#000" stroke-width="0.7"/>
<circle cx="264.0" cy="176.4" r="1.95" fill="#FFEE00" stroke="#000" stroke-width="0.7"/>
<circle cx="247.9" cy="184.7" r="1.95" fill="#FFEE00" stroke="#000" stroke-width="0.7"/>
<circle cx="253.2" cy="197.1" r="1.95" fill="#FFEE00" stroke="#000" stroke-width="0.7"/>
<circle cx="244.6" cy="199.3" r="1.95" fill="#FFEE00" stroke="#000" stroke-width="0.7"/>
<circle cx="251.5" cy="206.2" r="1.95" fill="#FFEE00" stroke="#000" stroke-width="0.7"/>
<circle cx="239.9" cy="171.4" r="1.95" fill="#FFEE00" stroke="#000" stroke-width="0.7"/>
<circle cx="239.9" cy="175.6" r="1.95" fill="#FFEE00" stroke="#000" stroke-width="0.7"/>
<circle cx="239.9" cy="179.7" r="1.95" fill="#FFEE00" stroke="#000" stroke-width="0.7"/>
<circle cx="230.0" cy="172.3" r="1.95" fill="#FFEE00" stroke="#000" stroke-width="0.7"/>
<circle cx="226.7" cy="194.6" r="1.95" fill="#FFEE00" stroke="#000" stroke-width="0.7"/>
<circle cx="231.6" cy="196.3" r="1.95" fill="#FFEE00" stroke="#000" stroke-width="0.7"/>
<circle cx="234.9" cy="196.3" r="1.95" fill="#FFEE00" stroke="#000" stroke-width="0.7"/>
<circle cx="234.9" cy="199.6" r="1.95" fill="#FFEE00" stroke="#000" stroke-width="0.7"/>
<circle cx="230.0" cy="201.3" r="1.95" fill="#FFEE00" stroke="#000" stroke-width="0.7"/>
<circle cx="237.4" cy="202.0" r="1.95" fill="#FFEE00" stroke="#000" stroke-width="0.7"/>
<circle cx="240.7" cy="202.9" r="1.95" fill="#FFEE00" stroke="#000" stroke-width="0.7"/>
<circle cx="226.7" cy="202.9" r="1.95" fill="#FFEE00" stroke="#000" stroke-width="0.7"/>
<circle cx="233.3" cy="203.7" r="1.95" fill="#FFEE00" stroke="#000" stroke-width="0.7"/>
<circle cx="238.3" cy="206.2" r="1.95" fill="#FFEE00" stroke="#000" stroke-width="0.7"/>
<circle cx="225.8" cy="206.2" r="1.95" fill="#FFEE00" stroke="#000" stroke-width="0.7"/>
<circle cx="221.0" cy="38.1" r="4.70" fill="#9EDFC0" stroke="#000" stroke-width="0.9"/>
<circle cx="196.4" cy="107.0" r="4.70" fill="#9EDFC0" stroke="#000" stroke-width="0.9"/>
<circle cx="207.5" cy="107.6" r="4.70" fill="#9EDFC0" stroke="#000" stroke-width="0.9"/>
<circle cx="203.1" cy="126.0" r="4.70" fill="#9EDFC0" stroke="#000" stroke-width="0.9"/>
<circle cx="210.1" cy="124.2" r="4.70" fill="#9EDFC0" stroke="#000" stroke-width="0.9"/>
<circle cx="195.5" cy="139.4" r="4.70" fill="#9EDFC0" stroke="#000" stroke-width="0.9"/>
<circle cx="204.8" cy="140.0" r="4.70" fill="#9EDFC0" stroke="#000" stroke-width="0.9"/>
<circle cx="198.4" cy="145.3" r="4.70" fill="#9EDFC0" stroke="#000" stroke-width="0.9"/>
<circle cx="213.6" cy="150.5" r="4.70" fill="#9EDFC0" stroke="#000" stroke-width="0.9"/>
<circle cx="196.7" cy="154.0" r="4.70" fill="#9EDFC0" stroke="#000" stroke-width="0.9"/>
<circle cx="195.9" cy="164.2" r="4.70" fill="#9EDFC0" stroke="#000" stroke-width="0.9"/>
<circle cx="200.3" cy="168.7" r="4.70" fill="#9EDFC0" stroke="#000" stroke-width="0.9"/>
<circle cx="202.6" cy="173.0" r="4.70" fill="#9EDFC0" stroke="#000" stroke-width="0.9"/>
<circle cx="217.8" cy="169.6" r="4.70" fill="#9EDFC0" stroke="#000" stroke-width="0.9"/>
<circle cx="213.0" cy="195.6" r="4.70" fill="#9EDFC0" stroke="#000" stroke-width="0.9"/>
<circle cx="209.2" cy="198.1" r="4.70" fill="#9EDFC0" stroke="#000" stroke-width="0.9"/>
<circle cx="206.0" cy="208.2" r="4.70" fill="#9EDFC0" stroke="#000" stroke-width="0.9"/>
<path d="M198.1 39.2L202.9 48.0L193.3 48.0Z" fill="#1D8A87" stroke="#000" stroke-width="0.9"/>
<path d="M198.9 66.1L203.7 74.9L194.1 74.9Z" fill="#1D8A87" stroke="#000" stroke-width="0.9"/>
<path d="M212.4 65.4L217.2 74.2L207.6 74.2Z" fill="#1D8A87" stroke="#000" stroke-width="0.9"/>
<path d="M187.9 109.5L192.7 118.3L183.1 118.3Z" fill="#1D8A87" stroke="#000" stroke-width="0.9"/>
<path d="M199.6 97.2L204.4 106.0L194.8 106.0Z" fill="#1D8A87" stroke="#000" stroke-width="0.9"/>
<path d="M201.3 98.4L206.1 107.2L196.5 107.2Z" fill="#1D8A87" stroke="#000" stroke-width="0.9"/>
<path d="M208.3 113.0L213.1 121.8L203.5 121.8Z" fill="#1D8A87" stroke="#000" stroke-width="0.9"/>
<path d="M185.1 167.4L189.9 176.2L180.3 176.2Z" fill="#1D8A87" stroke="#000" stroke-width="0.9"/>
<path d="M185.1 176.2L189.9 185.0L180.3 185.0Z" fill="#1D8A87" stroke="#000" stroke-width="0.9"/>
<path d="M199.7 179.4L204.5 188.2L194.9 188.2Z" fill="#1D8A87" stroke="#000" stroke-width="0.9"/>
<path d="M204.7 176.8L209.5 185.6L199.9 185.6Z" fill="#1D8A87" stroke="#000" stroke-width="0.9"/>
<path d="M209.8 162.3L214.6 171.1L205.0 171.1Z" fill="#1D8A87" stroke="#000" stroke-width="0.9"/>
<path d="M209.2 152.8L214.0 161.6L204.4 161.6Z" fill="#1D8A87" stroke="#000" stroke-width="0.9"/>
<path d="M218.7 157.2L223.5 166.0L213.9 166.0Z" fill="#1D8A87" stroke="#000" stroke-width="0.9"/>
<path d="M221.8 171.8L226.6 180.6L217.0 180.6Z" fill="#1D8A87" stroke="#000" stroke-width="0.9"/>
<path d="M229.4 203.4L234.2 212.2L224.6 212.2Z" fill="#1D8A87" stroke="#000" stroke-width="0.9"/>
<path d="M229.4 160.4L234.2 169.2L224.6 169.2Z" fill="#1D8A87" stroke="#000" stroke-width="0.9"/>
<path d="M238.3 138.5L243.1 147.3L233.5 147.3Z" fill="#1D8A87" stroke="#000" stroke-width="0.9"/>
<path d="M274.7 199.8L279.5 208.6L269.9 208.6Z" fill="#1D8A87" stroke="#000" stroke-width="0.9"/>
<path d="M237.4 203.1L242.2 211.9L232.6 211.9Z" fill="#1D8A87" stroke="#000" stroke-width="0.9"/>
<path d="M230.8 161.7L235.6 170.5L226.0 170.5Z" fill="#1D8A87" stroke="#000" stroke-width="0.9"/>
<path d="M245.3 117.1L250.1 125.9L240.5 125.9Z" fill="#1D8A87" stroke="#000" stroke-width="0.9"/>
<path d="M220.0 104.9L224.7 109.6L220.0 114.3L215.3 109.6Z" fill="#3B0A57" stroke="#000" stroke-width="0.8"/>
<path d="M212.4 110.8L217.1 115.5L212.4 120.2L207.7 115.5Z" fill="#3B0A57" stroke="#000" stroke-width="0.8"/>
<path d="M214.8 127.1L219.5 131.8L214.8 136.5L210.1 131.8Z" fill="#3B0A57" stroke="#000" stroke-width="0.8"/>
<path d="M223.0 124.2L227.7 128.9L223.0 133.6L218.3 128.9Z" fill="#3B0A57" stroke="#000" stroke-width="0.8"/>
<path d="M226.5 130.1L231.2 134.8L226.5 139.5L221.8 134.8Z" fill="#3B0A57" stroke="#000" stroke-width="0.8"/>
<path d="M212.4 139.4L217.1 144.1L212.4 148.8L207.7 144.1Z" fill="#3B0A57" stroke="#000" stroke-width="0.8"/>
<path d="M223.0 137.1L227.7 141.8L223.0 146.5L218.3 141.8Z" fill="#3B0A57" stroke="#000" stroke-width="0.8"/>
<path d="M224.1 141.8L228.8 146.5L224.1 151.2L219.4 146.5Z" fill="#3B0A57" stroke="#000" stroke-width="0.8"/>
<path d="M232.3 137.1L237.0 141.8L232.3 146.5L227.6 141.8Z" fill="#3B0A57" stroke="#000" stroke-width="0.8"/>
<path d="M223.1 147.8L227.8 152.5L223.1 157.2L218.4 152.5Z" fill="#3B0A57" stroke="#000" stroke-width="0.8"/>
<path d="M225.6 151.6L230.3 156.3L225.6 161.0L220.9 156.3Z" fill="#3B0A57" stroke="#000" stroke-width="0.8"/>
<path d="M229.4 155.4L234.1 160.1L229.4 164.8L224.7 160.1Z" fill="#3B0A57" stroke="#000" stroke-width="0.8"/>
<path d="M228.8 174.4L233.5 179.1L228.8 183.8L224.1 179.1Z" fill="#3B0A57" stroke="#000" stroke-width="0.8"/>
<path d="M230.7 184.5L235.4 189.2L230.7 193.9L226.0 189.2Z" fill="#3B0A57" stroke="#000" stroke-width="0.8"/>
<path d="M200.3 198.5L205.0 203.2L200.3 207.9L195.6 203.2Z" fill="#3B0A57" stroke="#000" stroke-width="0.8"/>
<path d="M214.2 204.2L218.9 208.9L214.2 213.6L209.5 208.9Z" fill="#3B0A57" stroke="#000" stroke-width="0.8"/>
<path d="M216.8 201.6L221.5 206.3L216.8 211.0L212.1 206.3Z" fill="#3B0A57" stroke="#000" stroke-width="0.8"/>
<path d="M226.7 130.3L231.4 135.0L226.7 139.7L222.0 135.0Z" fill="#3B0A57" stroke="#000" stroke-width="0.8"/>
<path d="M233.3 137.7L238.0 142.4L233.3 147.1L228.6 142.4Z" fill="#3B0A57" stroke="#000" stroke-width="0.8"/>
<path d="M239.9 149.3L244.6 154.0L239.9 158.7L235.2 154.0Z" fill="#3B0A57" stroke="#000" stroke-width="0.8"/>
<path d="M226.7 150.2L231.4 154.9L226.7 159.6L222.0 154.9Z" fill="#3B0A57" stroke="#000" stroke-width="0.8"/>
<path d="M231.6 156.8L236.3 161.5L231.6 166.2L226.9 161.5Z" fill="#3B0A57" stroke="#000" stroke-width="0.8"/>
<path d="M242.4 157.6L247.1 162.3L242.4 167.0L237.7 162.3Z" fill="#3B0A57" stroke="#000" stroke-width="0.8"/>
<path d="M236.6 167.6L241.3 172.3L236.6 177.0L231.9 172.3Z" fill="#3B0A57" stroke="#000" stroke-width="0.8"/>
<path d="M242.4 164.2L247.1 168.9L242.4 173.6L237.7 168.9Z" fill="#3B0A57" stroke="#000" stroke-width="0.8"/>
<path d="M229.1 175.0L233.8 179.7L229.1 184.4L224.4 179.7Z" fill="#3B0A57" stroke="#000" stroke-width="0.8"/>
<path d="M235.8 180.8L240.5 185.5L235.8 190.2L231.1 185.5Z" fill="#3B0A57" stroke="#000" stroke-width="0.8"/>
<path d="M230.0 185.0L234.7 189.7L230.0 194.4L225.3 189.7Z" fill="#3B0A57" stroke="#000" stroke-width="0.8"/>
<path d="M259.8 190.8L264.5 195.5L259.8 200.2L255.1 195.5Z" fill="#3B0A57" stroke="#000" stroke-width="0.8"/>
<rect x="189.0" y="163.3" width="8.8" height="8.8" fill="#30668F" stroke="#000" stroke-width="0.9"/>
<rect x="173.4" y="197.7" width="8.8" height="8.8" fill="#30668F" stroke="#000" stroke-width="0.9"/>
<rect x="177.1" y="205.3" width="8.8" height="8.8" fill="#30668F" stroke="#000" stroke-width="0.9"/>
<rect x="191.5" y="205.3" width="8.8" height="8.8" fill="#30668F" stroke="#000" stroke-width="0.9"/>
<path d="M154.3 384.1L158.7 388.5M158.7 384.1L154.3 388.5" stroke="#FFC000" stroke-width="1.5" fill="none"/>
<path d="M159.6 381.8L164.0 386.2M164.0 381.8L159.6 386.2" stroke="#FFC000" stroke-width="1.5" fill="none"/>
<path d="M169.6 380.1L174.0 384.5M174.0 380.1L169.6 384.5" stroke="#FFC000" stroke-width="1.5" fill="none"/>
<path d="M157.3 392.0L161.7 396.4M161.7 392.0L157.3 396.4" stroke="#FFC000" stroke-width="1.5" fill="none"/>
<path d="M165.2 386.6L169.6 391.0M169.6 386.6L165.2 391.0" stroke="#FFC000" stroke-width="1.5" fill="none"/>
<path d="M167.8 386.6L172.2 391.0M172.2 386.6L167.8 391.0" stroke="#FFC000" stroke-width="1.5" fill="none"/>
<path d="M138.5 393.6L142.9 398.0M142.9 393.6L138.5 398.0" stroke="#FFC000" stroke-width="1.5" fill="none"/>
<path d="M186.6 382.2L191.0 386.6M191.0 382.2L186.6 386.6" stroke="#FFC000" stroke-width="1.5" fill="none"/>
<path d="M191.8 365.5L196.2 369.9M196.2 365.5L191.8 369.9" stroke="#FFC000" stroke-width="1.5" fill="none"/>
<path d="M204.6 369.9L209.0 374.3M209.0 369.9L204.6 374.3" stroke="#FFC000" stroke-width="1.5" fill="none"/>
<path d="M120.4 404.6L124.8 409.0M124.8 404.6L120.4 409.0" stroke="#FFC000" stroke-width="1.5" fill="none"/>
<path d="M184.5 407.3L188.9 411.7M188.9 407.3L184.5 411.7" stroke="#FFC000" stroke-width="1.5" fill="none"/>
<path d="M215.1 357.2L219.5 361.6M219.5 357.2L215.1 361.6" stroke="#FFC000" stroke-width="1.5" fill="none"/>
<path d="M224.5 355.1L228.9 359.5M228.9 355.1L224.5 359.5" stroke="#FFC000" stroke-width="1.5" fill="none"/>
<path d="M169.1 370.4L173.5 374.8M173.5 370.4L169.1 374.8" stroke="#FFC000" stroke-width="1.5" fill="none"/>
<path d="M245.4 333.1L249.8 337.5M249.8 333.1L245.4 337.5" stroke="#FFC000" stroke-width="1.5" fill="none"/>
<path d="M270.9 310.5L275.3 314.9M275.3 310.5L270.9 314.9" stroke="#FFC000" stroke-width="1.5" fill="none"/>
<path d="M262.1 318.2L266.5 322.6M266.5 318.2L262.1 322.6" stroke="#FFC000" stroke-width="1.5" fill="none"/>
<path d="M275.5 319.9L279.9 324.3M279.9 319.9L275.5 324.3" stroke="#FFC000" stroke-width="1.5" fill="none"/>
<path d="M262.7 323.4L267.1 327.8M267.1 323.4L262.7 327.8" stroke="#FFC000" stroke-width="1.5" fill="none"/>
<path d="M267.4 328.1L271.8 332.5M271.8 328.1L267.4 332.5" stroke="#FFC000" stroke-width="1.5" fill="none"/>
<path d="M255.7 326.9L260.1 331.3M260.1 326.9L255.7 331.3" stroke="#FFC000" stroke-width="1.5" fill="none"/>
<path d="M245.7 332.2L250.1 336.6M250.1 332.2L245.7 336.6" stroke="#FFC000" stroke-width="1.5" fill="none"/>
<path d="M273.0 335.1L277.4 339.5M277.4 335.1L273.0 339.5" stroke="#FFC000" stroke-width="1.5" fill="none"/>
<path d="M143.3 414.2L147.7 418.6M147.7 414.2L143.3 418.6" stroke="#FFC000" stroke-width="1.5" fill="none"/>
<path d="M140.2 414.2L144.6 418.6M144.6 414.2L140.2 418.6" stroke="#FFC000" stroke-width="1.5" fill="none"/>
<path d="M118.4 404.8L122.8 409.2M122.8 404.8L118.4 409.2" stroke="#FFC000" stroke-width="1.5" fill="none"/>
<path d="M123.0 418.8L127.4 423.2M127.4 418.8L123.0 423.2" stroke="#FFC000" stroke-width="1.5" fill="none"/>
<path d="M118.4 425.1L122.8 429.5M122.8 425.1L118.4 429.5" stroke="#FFC000" stroke-width="1.5" fill="none"/>
<path d="M112.9 410.4L117.3 414.8M117.3 410.4L112.9 414.8" stroke="#FFC000" stroke-width="1.5" fill="none"/>
<path d="M118.5 399.1L122.9 403.5M122.9 399.1L118.5 403.5" stroke="#FFC000" stroke-width="1.5" fill="none"/>
<path d="M104.7 419.9L109.1 424.3M109.1 419.9L104.7 424.3" stroke="#FFC000" stroke-width="1.5" fill="none"/>
<path d="M107.3 418.6L111.7 423.0M111.7 418.6L107.3 423.0" stroke="#FFC000" stroke-width="1.5" fill="none"/>
<path d="M112.7 397.5L117.1 401.9M117.1 397.5L112.7 401.9" stroke="#FFC000" stroke-width="1.5" fill="none"/>
<path d="M113.9 399.9L118.3 404.3M118.3 399.9L113.9 404.3" stroke="#FFC000" stroke-width="1.5" fill="none"/>
<path d="M108.6 414.9L113.0 419.3M113.0 414.9L108.6 419.3" stroke="#FFC000" stroke-width="1.5" fill="none"/>
<path d="M109.1 405.8L113.5 410.2M113.5 405.8L109.1 410.2" stroke="#FFC000" stroke-width="1.5" fill="none"/>
<path d="M109.3 424.0L113.7 428.4M113.7 424.0L109.3 428.4" stroke="#FFC000" stroke-width="1.5" fill="none"/>
<path d="M106.3 413.7L110.7 418.1M110.7 413.7L106.3 418.1" stroke="#FFC000" stroke-width="1.5" fill="none"/>
<path d="M106.2 439.7L110.6 444.1M110.6 439.7L106.2 444.1" stroke="#FFC000" stroke-width="1.5" fill="none"/>
<path d="M112.3 408.8L116.7 413.2M116.7 408.8L112.3 413.2" stroke="#FFC000" stroke-width="1.5" fill="none"/>
<path d="M115.0 402.3L119.4 406.7M119.4 402.3L115.0 406.7" stroke="#FFC000" stroke-width="1.5" fill="none"/>
<path d="M103.4 432.5L107.8 436.9M107.8 432.5L103.4 436.9" stroke="#FFC000" stroke-width="1.5" fill="none"/>
<path d="M106.5 403.9L110.9 408.3M110.9 403.9L106.5 408.3" stroke="#FFC000" stroke-width="1.5" fill="none"/>
<path d="M105.5 412.6L109.9 417.0M109.9 412.6L105.5 417.0" stroke="#FFC000" stroke-width="1.5" fill="none"/>
<path d="M106.8 420.4L111.2 424.8M111.2 420.4L106.8 424.8" stroke="#FFC000" stroke-width="1.5" fill="none"/>
<path d="M111.9 405.1L116.3 409.5M116.3 405.1L111.9 409.5" stroke="#FFC000" stroke-width="1.5" fill="none"/>
<path d="M100.0 426.4L104.4 430.8M104.4 426.4L100.0 430.8" stroke="#FFC000" stroke-width="1.5" fill="none"/>
<path d="M106.4 422.2L110.8 426.6M110.8 422.2L106.4 426.6" stroke="#FFC000" stroke-width="1.5" fill="none"/>
<path d="M104.8 416.2L109.2 420.6M109.2 416.2L104.8 420.6" stroke="#FFC000" stroke-width="1.5" fill="none"/>
<path d="M110.0 427.3L114.4 431.7M114.4 427.3L110.0 431.7" stroke="#FFC000" stroke-width="1.5" fill="none"/>
<path d="M106.1 406.8L110.5 411.2M110.5 406.8L106.1 411.2" stroke="#FFC000" stroke-width="1.5" fill="none"/>
<path d="M97.6 435.2L102.0 439.6M102.0 435.2L97.6 439.6" stroke="#FFC000" stroke-width="1.5" fill="none"/>
<path d="M99.6 428.6L104.0 433.0M104.0 428.6L99.6 433.0" stroke="#FFC000" stroke-width="1.5" fill="none"/>
<path d="M124.2 401.1L128.6 405.5M128.6 401.1L124.2 405.5" stroke="#FFC000" stroke-width="1.5" fill="none"/>
<path d="M107.8 414.6L112.2 419.0M112.2 414.6L107.8 419.0" stroke="#FFC000" stroke-width="1.5" fill="none"/>
<path d="M104.1 417.8L108.5 422.2M108.5 417.8L104.1 422.2" stroke="#FFC000" stroke-width="1.5" fill="none"/>
<path d="M110.6 397.6L115.0 402.0M115.0 397.6L110.6 402.0" stroke="#FFC000" stroke-width="1.5" fill="none"/>
<path d="M98.8 421.6L103.2 426.0M103.2 421.6L98.8 426.0" stroke="#FFC000" stroke-width="1.5" fill="none"/>
<path d="M97.4 435.2L101.8 439.6M101.8 435.2L97.4 439.6" stroke="#FFC000" stroke-width="1.5" fill="none"/>
<path d="M110.7 422.5L115.1 426.9M115.1 422.5L110.7 426.9" stroke="#FFC000" stroke-width="1.5" fill="none"/>
<path d="M97.2 421.9L101.6 426.3M101.6 421.9L97.2 426.3" stroke="#FFC000" stroke-width="1.5" fill="none"/>
<path d="M100.9 438.3L105.3 442.7M105.3 438.3L100.9 442.7" stroke="#FFC000" stroke-width="1.5" fill="none"/>
<path d="M106.0 417.1L110.4 421.5M110.4 417.1L106.0 421.5" stroke="#FFC000" stroke-width="1.5" fill="none"/>
<path d="M101.6 427.4L106.0 431.8M106.0 427.4L101.6 431.8" stroke="#FFC000" stroke-width="1.5" fill="none"/>
<path d="M111.6 424.9L116.0 429.3M116.0 424.9L111.6 429.3" stroke="#FFC000" stroke-width="1.5" fill="none"/>
<path d="M109.6 408.6L114.0 413.0M114.0 408.6L109.6 413.0" stroke="#FFC000" stroke-width="1.5" fill="none"/>
<path d="M107.8 413.2L112.2 417.6M112.2 413.2L107.8 417.6" stroke="#FFC000" stroke-width="1.5" fill="none"/>
<path d="M106.2 416.6L110.6 421.0M110.6 416.6L106.2 421.0" stroke="#FFC000" stroke-width="1.5" fill="none"/>
<path d="M113.0 403.4L117.4 407.8M117.4 403.4L113.0 407.8" stroke="#FFC000" stroke-width="1.5" fill="none"/>
<path d="M102.7 430.4L107.1 434.8M107.1 430.4L102.7 434.8" stroke="#FFC000" stroke-width="1.5" fill="none"/>
<path d="M112.7 401.6L117.1 406.0M117.1 401.6L112.7 406.0" stroke="#FFC000" stroke-width="1.5" fill="none"/>
<path d="M104.2 435.0L108.6 439.4M108.6 435.0L104.2 439.4" stroke="#FFC000" stroke-width="1.5" fill="none"/>
<path d="M108.4 399.4L112.8 403.8M112.8 399.4L108.4 403.8" stroke="#FFC000" stroke-width="1.5" fill="none"/>
<path d="M101.4 435.6L105.8 440.0M105.8 435.6L101.4 440.0" stroke="#FFC000" stroke-width="1.5" fill="none"/>
<path d="M103.1 432.7L107.5 437.1M107.5 432.7L103.1 437.1" stroke="#FFC000" stroke-width="1.5" fill="none"/>
<path d="M105.2 414.5L109.6 418.9M109.6 414.5L105.2 418.9" stroke="#FFC000" stroke-width="1.5" fill="none"/>
<path d="M116.6 411.9L121.0 416.3M121.0 411.9L116.6 416.3" stroke="#FFC000" stroke-width="1.5" fill="none"/>
<path d="M105.2 402.6L109.6 407.0M109.6 402.6L105.2 407.0" stroke="#FFC000" stroke-width="1.5" fill="none"/>
<path d="M112.2 403.7L116.6 408.1M116.6 403.7L112.2 408.1" stroke="#FFC000" stroke-width="1.5" fill="none"/>
<path d="M109.6 417.6L114.0 422.0M114.0 417.6L109.6 422.0" stroke="#FFC000" stroke-width="1.5" fill="none"/>
<path d="M104.8 422.3L109.2 426.7M109.2 422.3L104.8 426.7" stroke="#FFC000" stroke-width="1.5" fill="none"/>
<path d="M108.1 414.7L112.5 419.1M112.5 414.7L108.1 419.1" stroke="#FFC000" stroke-width="1.5" fill="none"/>
<path d="M99.0 412.4L103.4 416.8M103.4 412.4L99.0 416.8" stroke="#FFC000" stroke-width="1.5" fill="none"/>
<path d="M98.9 426.9L103.3 431.3M103.3 426.9L98.9 431.3" stroke="#FFC000" stroke-width="1.5" fill="none"/>
<path d="M101.4 419.0L105.8 423.4M105.8 419.0L101.4 423.4" stroke="#FFC000" stroke-width="1.5" fill="none"/>
<path d="M109.6 398.2L114.0 402.6M114.0 398.2L109.6 402.6" stroke="#FFC000" stroke-width="1.5" fill="none"/>
<path d="M101.1 436.3L105.5 440.7M105.5 436.3L101.1 440.7" stroke="#FFC000" stroke-width="1.5" fill="none"/>
<path d="M92.8 431.7L97.2 436.1M97.2 431.7L92.8 436.1" stroke="#FFC000" stroke-width="1.5" fill="none"/>
<path d="M106.5 413.5L110.9 417.9M110.9 413.5L106.5 417.9" stroke="#FFC000" stroke-width="1.5" fill="none"/>
<path d="M105.2 424.3L109.6 428.7M109.6 424.3L105.2 428.7" stroke="#FFC000" stroke-width="1.5" fill="none"/>
<path d="M116.4 398.6L120.8 403.0M120.8 398.6L116.4 403.0" stroke="#FFC000" stroke-width="1.5" fill="none"/>
<path d="M113.2 403.1L117.6 407.5M117.6 403.1L113.2 407.5" stroke="#FFC000" stroke-width="1.5" fill="none"/>
<path d="M109.1 411.1L113.5 415.5M113.5 411.1L109.1 415.5" stroke="#FFC000" stroke-width="1.5" fill="none"/>
<path d="M112.3 402.6L116.7 407.0M116.7 402.6L112.3 407.0" stroke="#FFC000" stroke-width="1.5" fill="none"/>
<path d="M112.5 400.4L116.9 404.8M116.9 400.4L112.5 404.8" stroke="#FFC000" stroke-width="1.5" fill="none"/>
<path d="M100.7 435.1L105.1 439.5M105.1 435.1L100.7 439.5" stroke="#FFC000" stroke-width="1.5" fill="none"/>
<path d="M106.3 423.4L110.7 427.8M110.7 423.4L106.3 427.8" stroke="#FFC000" stroke-width="1.5" fill="none"/>
<path d="M111.5 411.4L115.9 415.8M115.9 411.4L111.5 415.8" stroke="#FFC000" stroke-width="1.5" fill="none"/>
<path d="M114.5 412.2L118.9 416.6M118.9 412.2L114.5 416.6" stroke="#FFC000" stroke-width="1.5" fill="none"/>
<path d="M103.6 440.5L108.0 444.9M108.0 440.5L103.6 444.9" stroke="#FFC000" stroke-width="1.5" fill="none"/>
<path d="M105.1 416.8L109.5 421.2M109.5 416.8L105.1 421.2" stroke="#FFC000" stroke-width="1.5" fill="none"/>
<path d="M113.2 400.4L117.6 404.8M117.6 400.4L113.2 404.8" stroke="#FFC000" stroke-width="1.5" fill="none"/>
<path d="M108.2 411.2L112.6 415.6M112.6 411.2L108.2 415.6" stroke="#FFC000" stroke-width="1.5" fill="none"/>
<path d="M119.9 403.1L124.3 407.5M124.3 403.1L119.9 407.5" stroke="#FFC000" stroke-width="1.5" fill="none"/>
<path d="M119.3 396.8L123.7 401.2M123.7 396.8L119.3 401.2" stroke="#FFC000" stroke-width="1.5" fill="none"/>
<path d="M110.7 402.4L115.1 406.8M115.1 402.4L110.7 406.8" stroke="#FFC000" stroke-width="1.5" fill="none"/>
<path d="M110.6 420.2L115.0 424.6M115.0 420.2L110.6 424.6" stroke="#FFC000" stroke-width="1.5" fill="none"/>
<path d="M99.0 439.8L103.4 444.2M103.4 439.8L99.0 444.2" stroke="#FFC000" stroke-width="1.5" fill="none"/>
<path d="M99.0 434.6L103.4 439.0M103.4 434.6L99.0 439.0" stroke="#FFC000" stroke-width="1.5" fill="none"/>
<path d="M105.5 412.3L109.9 416.7M109.9 412.3L105.5 416.7" stroke="#FFC000" stroke-width="1.5" fill="none"/>
<path d="M112.7 403.3L117.1 407.7M117.1 403.3L112.7 407.7" stroke="#FFC000" stroke-width="1.5" fill="none"/>
<path d="M96.4 430.9L100.8 435.3M100.8 430.9L96.4 435.3" stroke="#FFC000" stroke-width="1.5" fill="none"/>
<path d="M110.5 410.6L114.9 415.0M114.9 410.6L110.5 415.0" stroke="#FFC000" stroke-width="1.5" fill="none"/>
<circle cx="197.2" cy="345.0" r="1.95" fill="#FFEE00" stroke="#000" stroke-width="0.8"/>
<circle cx="206.0" cy="339.3" r="1.95" fill="#FFEE00" stroke="#000" stroke-width="0.8"/>
<circle cx="208.6" cy="336.7" r="1.95" fill="#FFEE00" stroke="#000" stroke-width="0.8"/>
<circle cx="228.9" cy="312.8" r="1.95" fill="#FFEE00" stroke="#000" stroke-width="0.8"/>
<circle cx="233.6" cy="314.2" r="1.95" fill="#FFEE00" stroke="#000" stroke-width="0.8"/>
<circle cx="241.0" cy="308.7" r="1.95" fill="#FFEE00" stroke="#000" stroke-width="0.8"/>
<circle cx="241.2" cy="312.7" r="1.95" fill="#FFEE00" stroke="#000" stroke-width="0.8"/>
<circle cx="235.4" cy="318.3" r="1.95" fill="#FFEE00" stroke="#000" stroke-width="0.8"/>
<circle cx="228.9" cy="320.3" r="1.95" fill="#FFEE00" stroke="#000" stroke-width="0.8"/>
<circle cx="232.4" cy="324.2" r="1.95" fill="#FFEE00" stroke="#000" stroke-width="0.8"/>
<circle cx="224.8" cy="325.4" r="1.95" fill="#FFEE00" stroke="#000" stroke-width="0.8"/>
<circle cx="224.8" cy="328.9" r="1.95" fill="#FFEE00" stroke="#000" stroke-width="0.8"/>
<circle cx="219.6" cy="328.9" r="1.95" fill="#FFEE00" stroke="#000" stroke-width="0.8"/>
<circle cx="215.5" cy="326.0" r="1.95" fill="#FFEE00" stroke="#000" stroke-width="0.8"/>
<circle cx="210.2" cy="330.0" r="1.95" fill="#FFEE00" stroke="#000" stroke-width="0.8"/>
<circle cx="214.9" cy="331.2" r="1.95" fill="#FFEE00" stroke="#000" stroke-width="0.8"/>
<circle cx="209.6" cy="336.5" r="1.95" fill="#FFEE00" stroke="#000" stroke-width="0.8"/>
<circle cx="206.3" cy="339.0" r="1.95" fill="#FFEE00" stroke="#000" stroke-width="0.8"/>
<circle cx="220.1" cy="337.6" r="1.95" fill="#FFEE00" stroke="#000" stroke-width="0.8"/>
<circle cx="223.7" cy="339.4" r="1.95" fill="#FFEE00" stroke="#000" stroke-width="0.8"/>
<circle cx="222.5" cy="343.5" r="1.95" fill="#FFEE00" stroke="#000" stroke-width="0.8"/>
<circle cx="251.1" cy="323.0" r="1.95" fill="#FFEE00" stroke="#000" stroke-width="0.8"/>
<circle cx="248.8" cy="317.2" r="1.95" fill="#FFEE00" stroke="#000" stroke-width="0.8"/>
<circle cx="244.7" cy="320.1" r="1.95" fill="#FFEE00" stroke="#000" stroke-width="0.8"/>
<circle cx="276.0" cy="301.0" r="1.95" fill="#FFEE00" stroke="#000" stroke-width="0.8"/>
<circle cx="269.6" cy="296.4" r="1.95" fill="#FFEE00" stroke="#000" stroke-width="0.8"/>
<circle cx="290.0" cy="313.3" r="1.95" fill="#FFEE00" stroke="#000" stroke-width="0.8"/>
<circle cx="297.6" cy="316.8" r="1.95" fill="#FFEE00" stroke="#000" stroke-width="0.8"/>
<circle cx="284.2" cy="315.7" r="1.95" fill="#FFEE00" stroke="#000" stroke-width="0.8"/>
<circle cx="287.1" cy="321.5" r="1.95" fill="#FFEE00" stroke="#000" stroke-width="0.8"/>
<circle cx="281.3" cy="326.2" r="1.95" fill="#FFEE00" stroke="#000" stroke-width="0.8"/>
<circle cx="251.4" cy="323.5" r="1.95" fill="#FFEE00" stroke="#000" stroke-width="0.8"/>
<circle cx="249.1" cy="317.4" r="1.95" fill="#FFEE00" stroke="#000" stroke-width="0.8"/>
<circle cx="252.6" cy="331.5" r="1.95" fill="#FFEE00" stroke="#000" stroke-width="0.8"/>
<circle cx="263.3" cy="351.0" r="1.95" fill="#FFEE00" stroke="#000" stroke-width="0.8"/>
<circle cx="273.5" cy="345.8" r="1.95" fill="#FFEE00" stroke="#000" stroke-width="0.8"/>
<circle cx="283.2" cy="344.0" r="1.95" fill="#FFEE00" stroke="#000" stroke-width="0.8"/>
<circle cx="304.6" cy="372.6" r="1.95" fill="#FFEE00" stroke="#000" stroke-width="0.8"/>
<circle cx="244.0" cy="353.5" r="1.95" fill="#FFEE00" stroke="#000" stroke-width="0.8"/>
<circle cx="106.0" cy="399.6" r="3.60" fill="#9EDFC0" stroke="#000" stroke-width="0.9"/>
<circle cx="210.8" cy="323.0" r="3.60" fill="#9EDFC0" stroke="#000" stroke-width="0.9"/>
<circle cx="240.0" cy="319.2" r="3.60" fill="#9EDFC0" stroke="#000" stroke-width="0.9"/>
<circle cx="273.1" cy="293.8" r="3.60" fill="#9EDFC0" stroke="#000" stroke-width="0.9"/>
<circle cx="256.7" cy="309.8" r="3.60" fill="#9EDFC0" stroke="#000" stroke-width="0.9"/>
<path d="M227.2 332.4L230.7 335.9L227.2 339.4L223.7 335.9Z" fill="#3B0A57" stroke="#000" stroke-width="0.8"/>
<path d="M228.9 338.8L232.4 342.3L228.9 345.8L225.4 342.3Z" fill="#3B0A57" stroke="#000" stroke-width="0.8"/>
<path d="M241.8 325.9L245.3 329.4L241.8 332.9L238.3 329.4Z" fill="#3B0A57" stroke="#000" stroke-width="0.8"/>
<path d="M245.9 323.6L249.4 327.1L245.9 330.6L242.4 327.1Z" fill="#3B0A57" stroke="#000" stroke-width="0.8"/>
<path d="M243.5 328.3L247.0 331.8L243.5 335.3L240.0 331.8Z" fill="#3B0A57" stroke="#000" stroke-width="0.8"/>
<path d="M249.4 333.0L252.9 336.5L249.4 340.0L245.9 336.5Z" fill="#3B0A57" stroke="#000" stroke-width="0.8"/>
<path d="M288.9 300.5L292.4 304.0L288.9 307.5L285.4 304.0Z" fill="#3B0A57" stroke="#000" stroke-width="0.8"/>
<path d="M273.1 304.0L276.6 307.5L273.1 311.0L269.6 307.5Z" fill="#3B0A57" stroke="#000" stroke-width="0.8"/>
<path d="M277.2 313.3L280.7 316.8L277.2 320.3L273.7 316.8Z" fill="#3B0A57" stroke="#000" stroke-width="0.8"/>
<path d="M288.3 313.3L291.8 316.8L288.3 320.3L284.8 316.8Z" fill="#3B0A57" stroke="#000" stroke-width="0.8"/>
<path d="M266.6 313.3L270.1 316.8L266.6 320.3L263.1 316.8Z" fill="#3B0A57" stroke="#000" stroke-width="0.8"/>
<path d="M259.0 326.8L262.5 330.3L259.0 333.8L255.5 330.3Z" fill="#3B0A57" stroke="#000" stroke-width="0.8"/>
<path d="M246.8 323.3L250.3 326.8L246.8 330.3L243.3 326.8Z" fill="#3B0A57" stroke="#000" stroke-width="0.8"/>
<path d="M249.7 333.8L253.2 337.3L249.7 340.8L246.2 337.3Z" fill="#3B0A57" stroke="#000" stroke-width="0.8"/>
<path d="M241.5 344.4L245.0 347.9L241.5 351.4L238.0 347.9Z" fill="#3B0A57" stroke="#000" stroke-width="0.8"/>
<path d="M292.5 299.0L296.0 302.5L292.5 306.0L289.0 302.5Z" fill="#3B0A57" stroke="#000" stroke-width="0.8"/>
<path d="M85.7 394.9L89.2 401.3L82.2 401.3Z" fill="#1D8A87" stroke="#000" stroke-width="0.9"/>
<path d="M73.7 411.4L77.2 417.8L70.2 417.8Z" fill="#1D8A87" stroke="#000" stroke-width="0.9"/>
<path d="M85.7 427.3L89.2 433.7L82.2 433.7Z" fill="#1D8A87" stroke="#000" stroke-width="0.9"/>
<path d="M124.7 393.0L128.2 399.4L121.2 399.4Z" fill="#1D8A87" stroke="#000" stroke-width="0.9"/>
<path d="M169.6 368.8L173.1 375.2L166.1 375.2Z" fill="#1D8A87" stroke="#000" stroke-width="0.9"/>
<path d="M188.4 342.8L191.9 349.2L184.9 349.2Z" fill="#1D8A87" stroke="#000" stroke-width="0.9"/>
<path d="M195.0 334.9L198.5 341.3L191.5 341.3Z" fill="#1D8A87" stroke="#000" stroke-width="0.9"/>
<path d="M214.3 334.7L217.8 341.1L210.8 341.1Z" fill="#1D8A87" stroke="#000" stroke-width="0.9"/>
<path d="M228.9 325.4L232.4 331.8L225.4 331.8Z" fill="#1D8A87" stroke="#000" stroke-width="0.9"/>
<path d="M233.6 327.1L237.1 333.5L230.1 333.5Z" fill="#1D8A87" stroke="#000" stroke-width="0.9"/>
<path d="M237.7 324.5L241.2 330.9L234.2 330.9Z" fill="#1D8A87" stroke="#000" stroke-width="0.9"/>
<path d="M253.4 298.5L256.9 304.9L249.9 304.9Z" fill="#1D8A87" stroke="#000" stroke-width="0.9"/>
<path d="M278.9 299.9L282.4 306.3L275.4 306.3Z" fill="#1D8A87" stroke="#000" stroke-width="0.9"/>
<path d="M282.4 304.5L285.9 310.9L278.9 310.9Z" fill="#1D8A87" stroke="#000" stroke-width="0.9"/>
<path d="M260.2 308.7L263.7 315.1L256.7 315.1Z" fill="#1D8A87" stroke="#000" stroke-width="0.9"/>
<path d="M257.3 322.1L260.8 328.5L253.8 328.5Z" fill="#1D8A87" stroke="#000" stroke-width="0.9"/>
<path d="M195.6 336.0L199.1 342.4L192.1 342.4Z" fill="#1D8A87" stroke="#000" stroke-width="0.9"/>
<rect x="246.4" y="307.0" width="7.6" height="7.6" fill="#30668F" stroke="#000" stroke-width="0.9"/>
<rect x="259.3" y="292.6" width="7.6" height="7.6" fill="#30668F" stroke="#000" stroke-width="0.9"/>
<rect x="262.2" y="300.2" width="7.6" height="7.6" fill="#30668F" stroke="#000" stroke-width="0.9"/>
<path d="M114.0 374.0L118.4 378.4M118.4 374.0L114.0 378.4" stroke="#8A8A8A" stroke-width="1.4" fill="none" stroke-opacity="0.9"/>
<path d="M115.5 371.7L119.9 376.1M119.9 371.7L115.5 376.1" stroke="#8A8A8A" stroke-width="1.4" fill="none" stroke-opacity="0.9"/>
<path d="M112.4 376.4L116.8 380.8M116.8 376.4L112.4 380.8" stroke="#8A8A8A" stroke-width="1.4" fill="none" stroke-opacity="0.9"/>
<path d="M97.6 389.6L102.0 394.0M102.0 389.6L97.6 394.0" stroke="#8A8A8A" stroke-width="1.4" fill="none" stroke-opacity="0.9"/>
<path d="M99.9 392.0L104.3 396.4M104.3 392.0L99.9 396.4" stroke="#8A8A8A" stroke-width="1.4" fill="none" stroke-opacity="0.9"/>
<path d="M113.2 393.5L117.6 397.9M117.6 393.5L113.2 397.9" stroke="#8A8A8A" stroke-width="1.4" fill="none" stroke-opacity="0.9"/>
<path d="M100.7 407.6L105.1 412.0M105.1 407.6L100.7 412.0" stroke="#8A8A8A" stroke-width="1.4" fill="none" stroke-opacity="0.9"/>
<path d="M95.2 413.8L99.6 418.2M99.6 413.8L95.2 418.2" stroke="#8A8A8A" stroke-width="1.4" fill="none" stroke-opacity="0.9"/>
<path d="M99.1 417.8L103.5 422.2M103.5 417.8L99.1 422.2" stroke="#8A8A8A" stroke-width="1.4" fill="none" stroke-opacity="0.9"/>
<path d="M90.6 430.2L95.0 434.6M95.0 430.2L90.6 434.6" stroke="#8A8A8A" stroke-width="1.4" fill="none" stroke-opacity="0.9"/>
<path d="M103.0 405.2L107.4 409.6M107.4 405.2L103.0 409.6" stroke="#8A8A8A" stroke-width="1.4" fill="none" stroke-opacity="0.9"/>
<path d="M159.0 341.8L163.4 346.2M163.4 341.8L159.0 346.2" stroke="#8A8A8A" stroke-width="1.4" fill="none" stroke-opacity="0.9"/>
<path d="M141.0 353.8L145.4 358.2M145.4 353.8L141.0 358.2" stroke="#8A8A8A" stroke-width="1.4" fill="none" stroke-opacity="0.9"/>
<path d="M170.8 360.3L175.2 364.7M175.2 360.3L170.8 364.7" stroke="#8A8A8A" stroke-width="1.4" fill="none" stroke-opacity="0.9"/>
<path d="M170.4 373.6L174.8 378.0M174.8 373.6L170.4 378.0" stroke="#8A8A8A" stroke-width="1.4" fill="none" stroke-opacity="0.9"/>
<path d="M197.1 346.8L201.5 351.2M201.5 346.8L197.1 351.2" stroke="#8A8A8A" stroke-width="1.4" fill="none" stroke-opacity="0.9"/>
<path d="M191.5 339.8L195.9 344.2M195.9 339.8L191.5 344.2" stroke="#8A8A8A" stroke-width="1.4" fill="none" stroke-opacity="0.9"/>
<path d="M195.1 305.6L199.5 310.0M199.5 305.6L195.1 310.0" stroke="#8A8A8A" stroke-width="1.4" fill="none" stroke-opacity="0.9"/>
<path d="M242.5 291.6L246.9 296.0M246.9 291.6L242.5 296.0" stroke="#8A8A8A" stroke-width="1.4" fill="none" stroke-opacity="0.9"/>
<path d="M245.4 298.0L249.8 302.4M249.8 298.0L245.4 302.4" stroke="#8A8A8A" stroke-width="1.4" fill="none" stroke-opacity="0.9"/>
<path d="M248.9 309.7L253.3 314.1M253.3 309.7L248.9 314.1" stroke="#8A8A8A" stroke-width="1.4" fill="none" stroke-opacity="0.9"/>
<path d="M233.8 333.1L238.2 337.5M238.2 333.1L233.8 337.5" stroke="#8A8A8A" stroke-width="1.4" fill="none" stroke-opacity="0.9"/>
<path d="M215.0 330.8L219.4 335.2M219.4 330.8L215.0 335.2" stroke="#8A8A8A" stroke-width="1.4" fill="none" stroke-opacity="0.9"/>
<path d="M247.8 317.3L252.2 321.7M252.2 317.3L247.8 321.7" stroke="#8A8A8A" stroke-width="1.4" fill="none" stroke-opacity="0.9"/>
<path d="M251.0 289.5L255.4 293.9M255.4 289.5L251.0 293.9" stroke="#8A8A8A" stroke-width="1.4" fill="none" stroke-opacity="0.9"/>
<path d="M245.1 292.4L249.5 296.8M249.5 292.4L245.1 296.8" stroke="#8A8A8A" stroke-width="1.4" fill="none" stroke-opacity="0.9"/>
<path d="M250.4 295.9L254.8 300.3M254.8 295.9L250.4 300.3" stroke="#8A8A8A" stroke-width="1.4" fill="none" stroke-opacity="0.9"/>
<path d="M260.9 294.8L265.3 299.2M265.3 294.8L260.9 299.2" stroke="#8A8A8A" stroke-width="1.4" fill="none" stroke-opacity="0.9"/>
<path d="M263.3 302.4L267.7 306.8M267.7 302.4L263.3 306.8" stroke="#8A8A8A" stroke-width="1.4" fill="none" stroke-opacity="0.9"/>
<path d="M245.1 298.8L249.5 303.2M249.5 298.8L245.1 303.2" stroke="#8A8A8A" stroke-width="1.4" fill="none" stroke-opacity="0.9"/>
<path d="M256.3 305.3L260.7 309.7M260.7 305.3L256.3 309.7" stroke="#8A8A8A" stroke-width="1.4" fill="none" stroke-opacity="0.9"/>
<path d="M248.6 311.7L253.0 316.1M253.0 311.7L248.6 316.1" stroke="#8A8A8A" stroke-width="1.4" fill="none" stroke-opacity="0.9"/>
<path d="M263.8 310.0L268.2 314.4M268.2 310.0L263.8 314.4" stroke="#8A8A8A" stroke-width="1.4" fill="none" stroke-opacity="0.9"/>
<path d="M254.5 318.7L258.9 323.1M258.9 318.7L254.5 323.1" stroke="#8A8A8A" stroke-width="1.4" fill="none" stroke-opacity="0.9"/>
<path d="M250.4 329.3L254.8 333.7M254.8 329.3L250.4 333.7" stroke="#8A8A8A" stroke-width="1.4" fill="none" stroke-opacity="0.9"/>
<path d="M141.8 353.3L146.2 357.7M146.2 353.3L141.8 357.7" stroke="#8A8A8A" stroke-width="1.4" fill="none" stroke-opacity="0.9"/>
<path d="M407.1 280.1L410.6 283.6M410.6 280.1L407.1 283.6" stroke="#858585" stroke-width="1.1" fill="none"/>
<path d="M396.9 286.1L400.4 289.6M400.4 286.1L396.9 289.6" stroke="#858585" stroke-width="1.1" fill="none"/>
<path d="M400.9 326.9L404.4 330.4M404.4 326.9L400.9 330.4" stroke="#858585" stroke-width="1.1" fill="none"/>
<path d="M400.1 332.1L403.6 335.6M403.6 332.1L400.1 335.6" stroke="#858585" stroke-width="1.1" fill="none"/>
<path d="M400.1 350.9L403.6 354.4M403.6 350.9L400.1 354.4" stroke="#858585" stroke-width="1.1" fill="none"/>
<path d="M401.4 356.8L404.9 360.2M404.9 356.8L401.4 360.2" stroke="#858585" stroke-width="1.1" fill="none"/>
<path d="M401.4 364.9L404.9 368.4M404.9 364.9L401.4 368.4" stroke="#858585" stroke-width="1.1" fill="none"/>
<path d="M425.4 393.6L428.9 397.1M428.9 393.6L425.4 397.1" stroke="#858585" stroke-width="1.1" fill="none"/>
<path d="M478.4 411.9L481.9 415.4M481.9 411.9L478.4 415.4" stroke="#858585" stroke-width="1.1" fill="none"/>
<path d="M472.9 417.4L476.4 420.9M476.4 417.4L472.9 420.9" stroke="#858585" stroke-width="1.1" fill="none"/>
<path d="M403.9 468.9L407.4 472.4M407.4 468.9L403.9 472.4" stroke="#858585" stroke-width="1.1" fill="none"/>
<path d="M453.9 415.0L457.4 418.5M457.4 415.0L453.9 418.5" stroke="#9A9A9A" stroke-width="1.1" fill="none"/>
<path d="M450.4 414.3L453.9 417.8M453.9 414.3L450.4 417.8" stroke="#9A9A9A" stroke-width="1.1" fill="none"/>
<path d="M449.0 401.2L452.5 404.7M452.5 401.2L449.0 404.7" stroke="#9A9A9A" stroke-width="1.1" fill="none"/>
<path d="M444.6 404.1L448.1 407.6M448.1 404.1L444.6 407.6" stroke="#9A9A9A" stroke-width="1.1" fill="none"/>
<path d="M434.8 396.9L438.3 400.4M438.3 396.9L434.8 400.4" stroke="#9A9A9A" stroke-width="1.1" fill="none"/>
<path d="M439.8 402.0L443.3 405.5M443.3 402.0L439.8 405.5" stroke="#9A9A9A" stroke-width="1.1" fill="none"/>
<path d="M448.1 417.3L451.6 420.8M451.6 417.3L448.1 420.8" stroke="#9A9A9A" stroke-width="1.1" fill="none"/>
<path d="M443.2 416.9L446.7 420.4M446.7 416.9L443.2 420.4" stroke="#9A9A9A" stroke-width="1.1" fill="none"/>
<path d="M454.0 417.3L457.5 420.8M457.5 417.3L454.0 420.8" stroke="#9A9A9A" stroke-width="1.1" fill="none"/>
<path d="M441.5 401.1L445.0 404.6M445.0 401.1L441.5 404.6" stroke="#9A9A9A" stroke-width="1.1" fill="none"/>
<path d="M438.8 400.6L442.3 404.1M442.3 400.6L438.8 404.1" stroke="#9A9A9A" stroke-width="1.1" fill="none"/>
<path d="M438.3 410.0L441.8 413.5M441.8 410.0L438.3 413.5" stroke="#9A9A9A" stroke-width="1.1" fill="none"/>
<path d="M452.3 414.7L455.8 418.2M455.8 414.7L452.3 418.2" stroke="#9A9A9A" stroke-width="1.1" fill="none"/>
<path d="M443.8 410.6L447.3 414.1M447.3 410.6L443.8 414.1" stroke="#9A9A9A" stroke-width="1.1" fill="none"/>
<path d="M450.2 398.1L453.7 401.6M453.7 398.1L450.2 401.6" stroke="#9A9A9A" stroke-width="1.1" fill="none"/>
<path d="M447.5 416.3L451.0 419.8M451.0 416.3L447.5 419.8" stroke="#9A9A9A" stroke-width="1.1" fill="none"/>
<path d="M449.9 412.8L453.4 416.3M453.4 412.8L449.9 416.3" stroke="#9A9A9A" stroke-width="1.1" fill="none"/>
<path d="M443.8 400.2L447.3 403.7M447.3 400.2L443.8 403.7" stroke="#9A9A9A" stroke-width="1.1" fill="none"/>
<path d="M450.0 403.6L453.5 407.1M453.5 403.6L450.0 407.1" stroke="#9A9A9A" stroke-width="1.1" fill="none"/>
<path d="M450.3 417.6L453.8 421.1M453.8 417.6L450.3 421.1" stroke="#9A9A9A" stroke-width="1.1" fill="none"/>
<path d="M442.2 405.1L445.7 408.6M445.7 405.1L442.2 408.6" stroke="#9A9A9A" stroke-width="1.1" fill="none"/>
<path d="M453.2 412.2L456.7 415.7M456.7 412.2L453.2 415.7" stroke="#9A9A9A" stroke-width="1.1" fill="none"/>
<path d="M437.7 399.0L441.2 402.5M441.2 399.0L437.7 402.5" stroke="#9A9A9A" stroke-width="1.1" fill="none"/>
<path d="M437.3 416.2L440.8 419.7M440.8 416.2L437.3 419.7" stroke="#9A9A9A" stroke-width="1.1" fill="none"/>
<path d="M408.6 254.1L412.1 257.6M412.1 254.1L408.6 257.6" stroke="#FFC000" stroke-width="1.1" fill="none"/>
<path d="M406.4 287.2L409.9 290.8M409.9 287.2L406.4 290.8" stroke="#FFC000" stroke-width="1.1" fill="none"/>
<path d="M408.2 290.6L411.8 294.1M411.8 290.6L408.2 294.1" stroke="#FFC000" stroke-width="1.1" fill="none"/>
<path d="M451.2 294.1L454.8 297.6M454.8 294.1L451.2 297.6" stroke="#FFC000" stroke-width="1.1" fill="none"/>
<path d="M410.2 309.1L413.8 312.6M413.8 309.1L410.2 312.6" stroke="#FFC000" stroke-width="1.1" fill="none"/>
<path d="M434.4 313.2L437.9 316.8M437.9 313.2L434.4 316.8" stroke="#FFC000" stroke-width="1.1" fill="none"/>
<path d="M433.6 321.9L437.1 325.4M437.1 321.9L433.6 325.4" stroke="#FFC000" stroke-width="1.1" fill="none"/>
<path d="M416.9 318.4L420.4 321.9M420.4 318.4L416.9 321.9" stroke="#FFC000" stroke-width="1.1" fill="none"/>
<path d="M414.4 339.9L417.9 343.4M417.9 339.9L414.4 343.4" stroke="#FFC000" stroke-width="1.1" fill="none"/>
<path d="M419.6 346.2L423.1 349.8M423.1 346.2L419.6 349.8" stroke="#FFC000" stroke-width="1.1" fill="none"/>
<path d="M439.4 356.8L442.9 360.2M442.9 356.8L439.4 360.2" stroke="#FFC000" stroke-width="1.1" fill="none"/>
<path d="M443.6 363.8L447.1 367.2M447.1 363.8L443.6 367.2" stroke="#FFC000" stroke-width="1.1" fill="none"/>
<path d="M466.9 375.4L470.4 378.9M470.4 375.4L466.9 378.9" stroke="#FFC000" stroke-width="1.1" fill="none"/>
<path d="M466.9 380.8L470.4 384.2M470.4 380.8L466.9 384.2" stroke="#FFC000" stroke-width="1.1" fill="none"/>
<path d="M470.9 380.1L474.4 383.6M474.4 380.1L470.9 383.6" stroke="#FFC000" stroke-width="1.1" fill="none"/>
<path d="M482.6 387.1L486.1 390.6M486.1 387.1L482.6 390.6" stroke="#FFC000" stroke-width="1.1" fill="none"/>
<path d="M486.6 390.8L490.1 394.2M490.1 390.8L486.6 394.2" stroke="#FFC000" stroke-width="1.1" fill="none"/>
<path d="M491.4 385.6L494.9 389.1M494.9 385.6L491.4 389.1" stroke="#FFC000" stroke-width="1.1" fill="none"/>
<path d="M479.2 396.4L482.8 399.9M482.8 396.4L479.2 399.9" stroke="#FFC000" stroke-width="1.1" fill="none"/>
<path d="M517.4 385.1L520.9 388.6M520.9 385.1L517.4 388.6" stroke="#FFC000" stroke-width="1.1" fill="none"/>
<path d="M600.9 381.6L604.4 385.1M604.4 381.6L600.9 385.1" stroke="#FFC000" stroke-width="1.1" fill="none"/>
<circle cx="459.4" cy="381.4" r="2.20" fill="#FFEE00" stroke="#000" stroke-width="0.8"/>
<circle cx="461.0" cy="390.8" r="2.20" fill="#FFEE00" stroke="#000" stroke-width="0.8"/>
<circle cx="468.0" cy="369.8" r="2.20" fill="#FFEE00" stroke="#000" stroke-width="0.8"/>
<circle cx="472.7" cy="367.1" r="2.20" fill="#FFEE00" stroke="#000" stroke-width="0.8"/>
<circle cx="476.8" cy="377.7" r="2.20" fill="#FFEE00" stroke="#000" stroke-width="0.8"/>
<circle cx="478.9" cy="377.7" r="2.20" fill="#FFEE00" stroke="#000" stroke-width="0.8"/>
<circle cx="465.9" cy="381.2" r="2.20" fill="#FFEE00" stroke="#000" stroke-width="0.8"/>
<circle cx="467.3" cy="389.3" r="2.20" fill="#FFEE00" stroke="#000" stroke-width="0.8"/>
<circle cx="469.3" cy="394.1" r="2.20" fill="#FFEE00" stroke="#000" stroke-width="0.8"/>
<circle cx="475.7" cy="386.2" r="2.20" fill="#FFEE00" stroke="#000" stroke-width="0.8"/>
<circle cx="475.7" cy="390.0" r="2.20" fill="#FFEE00" stroke="#000" stroke-width="0.8"/>
<circle cx="491.2" cy="395.2" r="2.20" fill="#FFEE00" stroke="#000" stroke-width="0.8"/>
<circle cx="497.3" cy="381.8" r="2.20" fill="#FFEE00" stroke="#000" stroke-width="0.8"/>
<circle cx="498.0" cy="387.0" r="2.20" fill="#FFEE00" stroke="#000" stroke-width="0.8"/>
<circle cx="502.5" cy="385.3" r="2.20" fill="#FFEE00" stroke="#000" stroke-width="0.8"/>
<circle cx="503.0" cy="376.4" r="2.20" fill="#FFEE00" stroke="#000" stroke-width="0.8"/>
<circle cx="503.0" cy="378.8" r="2.20" fill="#FFEE00" stroke="#000" stroke-width="0.8"/>
<circle cx="504.8" cy="393.0" r="2.20" fill="#FFEE00" stroke="#000" stroke-width="0.8"/>
<circle cx="483.7" cy="380.2" r="2.20" fill="#FFEE00" stroke="#000" stroke-width="0.8"/>
<circle cx="502.0" cy="385.2" r="2.20" fill="#FFEE00" stroke="#000" stroke-width="0.8"/>
<circle cx="535.7" cy="384.4" r="2.20" fill="#FFEE00" stroke="#000" stroke-width="0.8"/>
<circle cx="547.7" cy="391.6" r="2.20" fill="#FFEE00" stroke="#000" stroke-width="0.8"/>
<circle cx="510.9" cy="393.4" r="2.20" fill="#FFEE00" stroke="#000" stroke-width="0.8"/>
<circle cx="524.6" cy="389.6" r="2.20" fill="#FFEE00" stroke="#000" stroke-width="0.8"/>
<circle cx="522.9" cy="393.4" r="2.20" fill="#FFEE00" stroke="#000" stroke-width="0.8"/>
<circle cx="522.1" cy="396.7" r="2.20" fill="#FFEE00" stroke="#000" stroke-width="0.8"/>
<circle cx="528.0" cy="398.0" r="2.20" fill="#FFEE00" stroke="#000" stroke-width="0.8"/>
<circle cx="533.4" cy="397.1" r="2.20" fill="#FFEE00" stroke="#000" stroke-width="0.8"/>
<circle cx="532.0" cy="400.8" r="2.20" fill="#FFEE00" stroke="#000" stroke-width="0.8"/>
<circle cx="536.6" cy="404.6" r="2.20" fill="#FFEE00" stroke="#000" stroke-width="0.8"/>
<circle cx="555.9" cy="408.9" r="2.20" fill="#FFEE00" stroke="#000" stroke-width="0.8"/>
<circle cx="558.7" cy="410.7" r="2.20" fill="#FFEE00" stroke="#000" stroke-width="0.8"/>
<circle cx="507.5" cy="416.2" r="2.20" fill="#FFEE00" stroke="#000" stroke-width="0.8"/>
<circle cx="526.6" cy="407.3" r="2.20" fill="#FFEE00" stroke="#000" stroke-width="0.8"/>
<circle cx="547.7" cy="412.5" r="2.20" fill="#FFEE00" stroke="#000" stroke-width="0.8"/>
<circle cx="550.5" cy="412.5" r="2.20" fill="#FFEE00" stroke="#000" stroke-width="0.8"/>
<circle cx="558.7" cy="414.1" r="2.20" fill="#FFEE00" stroke="#000" stroke-width="0.8"/>
<circle cx="564.1" cy="413.4" r="2.20" fill="#FFEE00" stroke="#000" stroke-width="0.8"/>
<circle cx="549.1" cy="416.8" r="2.20" fill="#FFEE00" stroke="#000" stroke-width="0.8"/>
<circle cx="563.4" cy="417.5" r="2.20" fill="#FFEE00" stroke="#000" stroke-width="0.8"/>
<circle cx="538.9" cy="414.1" r="2.20" fill="#FFEE00" stroke="#000" stroke-width="0.8"/>
<circle cx="590.7" cy="413.4" r="2.20" fill="#FFEE00" stroke="#000" stroke-width="0.8"/>
<circle cx="600.9" cy="411.1" r="2.20" fill="#FFEE00" stroke="#000" stroke-width="0.8"/>
<circle cx="625.5" cy="412.7" r="2.20" fill="#FFEE00" stroke="#000" stroke-width="0.8"/>
<circle cx="615.9" cy="418.9" r="2.20" fill="#FFEE00" stroke="#000" stroke-width="0.8"/>
<circle cx="603.9" cy="418.0" r="2.20" fill="#FFEE00" stroke="#000" stroke-width="0.8"/>
<circle cx="603.9" cy="421.0" r="2.20" fill="#FFEE00" stroke="#000" stroke-width="0.8"/>
<circle cx="598.5" cy="423.7" r="2.20" fill="#FFEE00" stroke="#000" stroke-width="0.8"/>
<circle cx="598.2" cy="431.2" r="2.20" fill="#FFEE00" stroke="#000" stroke-width="0.8"/>
<circle cx="577.5" cy="428.4" r="2.20" fill="#FFEE00" stroke="#000" stroke-width="0.8"/>
<circle cx="565.5" cy="435.7" r="2.20" fill="#FFEE00" stroke="#000" stroke-width="0.8"/>
<circle cx="574.3" cy="435.7" r="2.20" fill="#FFEE00" stroke="#000" stroke-width="0.8"/>
<circle cx="569.5" cy="416.2" r="2.20" fill="#FFEE00" stroke="#000" stroke-width="0.8"/>
<circle cx="572.3" cy="418.9" r="2.20" fill="#FFEE00" stroke="#000" stroke-width="0.8"/>
<circle cx="573.6" cy="425.0" r="2.20" fill="#FFEE00" stroke="#000" stroke-width="0.8"/>
<circle cx="584.6" cy="423.4" r="2.20" fill="#FFEE00" stroke="#000" stroke-width="0.8"/>
<circle cx="575.7" cy="419.6" r="2.20" fill="#FFEE00" stroke="#000" stroke-width="0.8"/>
<circle cx="467.3" cy="405.1" r="2.20" fill="#FFEE00" stroke="#000" stroke-width="0.8"/>
<circle cx="494.3" cy="417.3" r="2.20" fill="#FFEE00" stroke="#000" stroke-width="0.8"/>
<circle cx="507.1" cy="416.1" r="2.20" fill="#FFEE00" stroke="#000" stroke-width="0.8"/>
<circle cx="459.0" cy="436.7" r="2.20" fill="#FFEE00" stroke="#000" stroke-width="0.8"/>
<circle cx="497.4" cy="434.3" r="2.20" fill="#FFEE00" stroke="#000" stroke-width="0.8"/>
<circle cx="494.9" cy="458.5" r="2.20" fill="#FFEE00" stroke="#000" stroke-width="0.8"/>
<circle cx="469.6" cy="395.0" r="2.20" fill="#FFEE00" stroke="#000" stroke-width="0.8"/>
<circle cx="490.7" cy="395.0" r="2.20" fill="#FFEE00" stroke="#000" stroke-width="0.8"/>
<circle cx="559.5" cy="468.0" r="2.20" fill="#FFEE00" stroke="#000" stroke-width="0.8"/>
<circle cx="589.7" cy="458.7" r="2.20" fill="#FFEE00" stroke="#000" stroke-width="0.8"/>
<circle cx="549.2" cy="446.4" r="2.20" fill="#FFEE00" stroke="#000" stroke-width="0.8"/>
<circle cx="537.0" cy="404.5" r="2.20" fill="#FFEE00" stroke="#000" stroke-width="0.8"/>
<circle cx="510.5" cy="393.3" r="2.20" fill="#FFEE00" stroke="#000" stroke-width="0.8"/>
<circle cx="553.5" cy="411.0" r="2.20" fill="#FFEE00" stroke="#000" stroke-width="0.8"/>
<circle cx="560.0" cy="416.0" r="2.20" fill="#FFEE00" stroke="#000" stroke-width="0.8"/>
<circle cx="566.0" cy="417.5" r="2.20" fill="#FFEE00" stroke="#000" stroke-width="0.8"/>
<circle cx="572.0" cy="420.0" r="2.20" fill="#FFEE00" stroke="#000" stroke-width="0.8"/>
<circle cx="583.0" cy="419.0" r="2.20" fill="#FFEE00" stroke="#000" stroke-width="0.8"/>
<circle cx="592.0" cy="421.0" r="2.20" fill="#FFEE00" stroke="#000" stroke-width="0.8"/>
<circle cx="526.0" cy="421.0" r="2.20" fill="#FFEE00" stroke="#000" stroke-width="0.8"/>
<circle cx="533.0" cy="426.0" r="2.20" fill="#FFEE00" stroke="#000" stroke-width="0.8"/>
<path d="M456.3 389.6L459.9 393.2L456.3 396.8L452.7 393.2Z" fill="#3B0A57" stroke="#000" stroke-width="0.8"/>
<path d="M484.3 377.6L487.9 381.2L484.3 384.8L480.7 381.2Z" fill="#3B0A57" stroke="#000" stroke-width="0.8"/>
<path d="M474.5 395.2L478.1 398.8L474.5 402.4L470.9 398.8Z" fill="#3B0A57" stroke="#000" stroke-width="0.8"/>
<path d="M487.1 402.3L490.7 405.9L487.1 409.5L483.5 405.9Z" fill="#3B0A57" stroke="#000" stroke-width="0.8"/>
<path d="M560.0 398.9L563.6 402.5L560.0 406.1L556.4 402.5Z" fill="#3B0A57" stroke="#000" stroke-width="0.8"/>
<path d="M525.2 409.4L528.8 413.0L525.2 416.6L521.6 413.0Z" fill="#3B0A57" stroke="#000" stroke-width="0.8"/>
<path d="M532.0 410.5L535.6 414.1L532.0 417.7L528.4 414.1Z" fill="#3B0A57" stroke="#000" stroke-width="0.8"/>
<path d="M542.3 410.5L545.9 414.1L542.3 417.7L538.7 414.1Z" fill="#3B0A57" stroke="#000" stroke-width="0.8"/>
<path d="M543.0 406.4L546.6 410.0L543.0 413.6L539.4 410.0Z" fill="#3B0A57" stroke="#000" stroke-width="0.8"/>
<path d="M554.6 413.9L558.2 417.5L554.6 421.1L551.0 417.5Z" fill="#3B0A57" stroke="#000" stroke-width="0.8"/>
<path d="M521.8 399.6L525.4 403.2L521.8 406.8L518.2 403.2Z" fill="#3B0A57" stroke="#000" stroke-width="0.8"/>
<path d="M573.6 403.7L577.2 407.3L573.6 410.9L570.0 407.3Z" fill="#3B0A57" stroke="#000" stroke-width="0.8"/>
<path d="M577.0 409.1L580.6 412.7L577.0 416.3L573.4 412.7Z" fill="#3B0A57" stroke="#000" stroke-width="0.8"/>
<path d="M584.6 408.4L588.2 412.0L584.6 415.6L581.0 412.0Z" fill="#3B0A57" stroke="#000" stroke-width="0.8"/>
<path d="M581.8 411.2L585.4 414.8L581.8 418.4L578.2 414.8Z" fill="#3B0A57" stroke="#000" stroke-width="0.8"/>
<path d="M585.9 410.5L589.5 414.1L585.9 417.7L582.3 414.1Z" fill="#3B0A57" stroke="#000" stroke-width="0.8"/>
<path d="M600.2 413.2L603.8 416.8L600.2 420.4L596.6 416.8Z" fill="#3B0A57" stroke="#000" stroke-width="0.8"/>
<path d="M579.1 418.0L582.7 421.6L579.1 425.2L575.5 421.6Z" fill="#3B0A57" stroke="#000" stroke-width="0.8"/>
<path d="M592.7 419.8L596.3 423.4L592.7 427.0L589.1 423.4Z" fill="#3B0A57" stroke="#000" stroke-width="0.8"/>
<path d="M588.0 423.1L591.6 426.7L588.0 430.3L584.4 426.7Z" fill="#3B0A57" stroke="#000" stroke-width="0.8"/>
<path d="M569.5 420.1L573.1 423.7L569.5 427.3L565.9 423.7Z" fill="#3B0A57" stroke="#000" stroke-width="0.8"/>
<path d="M564.8 419.8L568.4 423.4L564.8 427.0L561.2 423.4Z" fill="#3B0A57" stroke="#000" stroke-width="0.8"/>
<path d="M560.7 416.6L564.3 420.2L560.7 423.8L557.1 420.2Z" fill="#3B0A57" stroke="#000" stroke-width="0.8"/>
<path d="M628.2 431.0L631.8 434.6L628.2 438.2L624.6 434.6Z" fill="#3B0A57" stroke="#000" stroke-width="0.8"/>
<path d="M542.0 408.1L545.6 411.7L542.0 415.3L538.4 411.7Z" fill="#3B0A57" stroke="#000" stroke-width="0.8"/>
<path d="M538.5 417.7L542.1 421.3L538.5 424.9L534.9 421.3Z" fill="#3B0A57" stroke="#000" stroke-width="0.8"/>
<path d="M547.3 421.2L550.9 424.8L547.3 428.4L543.7 424.8Z" fill="#3B0A57" stroke="#000" stroke-width="0.8"/>
<path d="M552.5 412.4L556.1 416.0L552.5 419.6L548.9 416.0Z" fill="#3B0A57" stroke="#000" stroke-width="0.8"/>
<path d="M554.3 422.9L557.9 426.5L554.3 430.1L550.7 426.5Z" fill="#3B0A57" stroke="#000" stroke-width="0.8"/>
<path d="M559.5 416.8L563.1 420.4L559.5 424.0L555.9 420.4Z" fill="#3B0A57" stroke="#000" stroke-width="0.8"/>
<path d="M564.8 420.4L568.4 424.0L564.8 427.6L561.2 424.0Z" fill="#3B0A57" stroke="#000" stroke-width="0.8"/>
<path d="M570.0 419.4L573.6 423.0L570.0 426.6L566.4 423.0Z" fill="#3B0A57" stroke="#000" stroke-width="0.8"/>
<path d="M578.8 417.7L582.4 421.3L578.8 424.9L575.2 421.3Z" fill="#3B0A57" stroke="#000" stroke-width="0.8"/>
<path d="M587.6 422.9L591.2 426.5L587.6 430.1L584.0 426.5Z" fill="#3B0A57" stroke="#000" stroke-width="0.8"/>
<path d="M592.8 419.4L596.4 423.0L592.8 426.6L589.2 423.0Z" fill="#3B0A57" stroke="#000" stroke-width="0.8"/>
<path d="M573.6 403.7L577.2 407.3L573.6 410.9L570.0 407.3Z" fill="#3B0A57" stroke="#000" stroke-width="0.8"/>
<path d="M582.3 408.9L585.9 412.5L582.3 416.1L578.7 412.5Z" fill="#3B0A57" stroke="#000" stroke-width="0.8"/>
<path d="M599.8 413.4L603.4 417.0L599.8 420.6L596.2 417.0Z" fill="#3B0A57" stroke="#000" stroke-width="0.8"/>
<path d="M526.3 408.9L529.9 412.5L526.3 416.1L522.7 412.5Z" fill="#3B0A57" stroke="#000" stroke-width="0.8"/>
<path d="M531.5 410.7L535.1 414.3L531.5 417.9L527.9 414.3Z" fill="#3B0A57" stroke="#000" stroke-width="0.8"/>
<path d="M543.8 412.4L547.4 416.0L543.8 419.6L540.2 416.0Z" fill="#3B0A57" stroke="#000" stroke-width="0.8"/>
<path d="M404.6 286.8L408.5 293.8L400.7 293.8Z" fill="#1D8A87" stroke="#000" stroke-width="0.9"/>
<path d="M427.1 281.1L431.0 288.1L423.2 288.1Z" fill="#1D8A87" stroke="#000" stroke-width="0.9"/>
<path d="M443.7 315.1L447.6 322.1L439.8 322.1Z" fill="#1D8A87" stroke="#000" stroke-width="0.9"/>
<path d="M445.4 351.1L449.3 358.1L441.5 358.1Z" fill="#1D8A87" stroke="#000" stroke-width="0.9"/>
<path d="M458.2 370.5L462.1 377.5L454.3 377.5Z" fill="#1D8A87" stroke="#000" stroke-width="0.9"/>
<path d="M452.4 375.1L456.3 382.1L448.5 382.1Z" fill="#1D8A87" stroke="#000" stroke-width="0.9"/>
<path d="M478.5 355.8L482.4 362.8L474.6 362.8Z" fill="#1D8A87" stroke="#000" stroke-width="0.9"/>
<path d="M476.6 391.6L480.5 398.6L472.7 398.6Z" fill="#1D8A87" stroke="#000" stroke-width="0.9"/>
<path d="M519.1 381.8L523.0 388.8L515.2 388.8Z" fill="#1D8A87" stroke="#000" stroke-width="0.9"/>
<path d="M558.7 398.6L562.6 405.6L554.8 405.6Z" fill="#1D8A87" stroke="#000" stroke-width="0.9"/>
<path d="M515.0 408.1L518.9 415.1L511.1 415.1Z" fill="#1D8A87" stroke="#000" stroke-width="0.9"/>
<path d="M502.0 407.5L505.9 414.5L498.1 414.5Z" fill="#1D8A87" stroke="#000" stroke-width="0.9"/>
<path d="M505.5 395.9L509.4 402.9L501.6 402.9Z" fill="#1D8A87" stroke="#000" stroke-width="0.9"/>
<path d="M508.2 395.9L512.1 402.9L504.3 402.9Z" fill="#1D8A87" stroke="#000" stroke-width="0.9"/>
<path d="M607.7 417.8L611.6 424.8L603.8 424.8Z" fill="#1D8A87" stroke="#000" stroke-width="0.9"/>
<path d="M611.2 418.4L615.1 425.4L607.3 425.4Z" fill="#1D8A87" stroke="#000" stroke-width="0.9"/>
<path d="M617.3 436.1L621.2 443.1L613.4 443.1Z" fill="#1D8A87" stroke="#000" stroke-width="0.9"/>
<path d="M484.9 417.6L488.8 424.6L481.0 424.6Z" fill="#1D8A87" stroke="#000" stroke-width="0.9"/>
<path d="M479.8 423.9L483.7 430.9L475.9 430.9Z" fill="#1D8A87" stroke="#000" stroke-width="0.9"/>
<path d="M508.3 419.1L512.2 426.1L504.4 426.1Z" fill="#1D8A87" stroke="#000" stroke-width="0.9"/>
<path d="M640.3 421.4L644.2 428.4L636.4 428.4Z" fill="#1D8A87" stroke="#000" stroke-width="0.9"/>
<circle cx="416.7" cy="310.4" r="3.60" fill="#9EDFC0" stroke="#000" stroke-width="0.9"/>
<circle cx="444.6" cy="373.7" r="3.60" fill="#9EDFC0" stroke="#000" stroke-width="0.9"/>
<circle cx="472.0" cy="383.9" r="3.60" fill="#9EDFC0" stroke="#000" stroke-width="0.9"/>
<circle cx="521.5" cy="407.6" r="3.60" fill="#9EDFC0" stroke="#000" stroke-width="0.9"/>
<circle cx="492.7" cy="410.9" r="3.60" fill="#9EDFC0" stroke="#000" stroke-width="0.9"/>
<rect x="488.7" y="377.4" width="7.6" height="7.6" fill="#30668F" stroke="#000" stroke-width="0.9"/>
<rect x="483.3" y="383.5" width="7.6" height="7.6" fill="#30668F" stroke="#000" stroke-width="0.9"/>
<rect x="478.5" y="385.5" width="7.6" height="7.6" fill="#30668F" stroke="#000" stroke-width="0.9"/>
<rect x="498.4" y="395.7" width="7.6" height="7.6" fill="#30668F" stroke="#000" stroke-width="0.9"/>
<path d="M384.5 4.8H679.7V213.4" stroke="#333" stroke-width="1.1" fill="none"/>
<path d="M384.5 4.8V213.4H679.7" stroke="#111" stroke-width="1.5" fill="none"/>
<path d="M384.5 213.4v3.8M397.6 213.4v2.8M410.7 213.4v2.8M423.9 213.4v2.8M437.0 213.4v2.8M450.1 213.4v3.8M463.2 213.4v2.8M476.3 213.4v2.8M489.5 213.4v2.8M502.6 213.4v2.8M515.7 213.4v3.8M528.8 213.4v2.8M541.9 213.4v2.8M555.1 213.4v2.8M568.2 213.4v2.8M581.3 213.4v3.8M594.4 213.4v2.8M607.5 213.4v2.8M620.7 213.4v2.8M633.8 213.4v2.8M646.9 213.4v3.8M660.0 213.4v2.8M673.1 213.4v2.8M384.5 213.4h-4.2M384.5 206.4h-3.2M384.5 199.5h-3.2M384.5 192.5h-3.2M384.5 185.6h-3.2M384.5 178.6h-4.2M384.5 171.7h-3.2M384.5 164.7h-3.2M384.5 157.8h-3.2M384.5 150.8h-3.2M384.5 143.9h-4.2M384.5 136.9h-3.2M384.5 130.0h-3.2M384.5 123.0h-3.2M384.5 116.0h-3.2M384.5 109.1h-4.2M384.5 102.1h-3.2M384.5 95.2h-3.2M384.5 88.2h-3.2M384.5 81.3h-3.2M384.5 74.3h-4.2M384.5 67.4h-3.2M384.5 60.4h-3.2M384.5 53.5h-3.2M384.5 46.5h-3.2M384.5 39.6h-4.2M384.5 32.6h-3.2M384.5 25.6h-3.2M384.5 18.7h-3.2M384.5 11.7h-3.2M384.5 4.8h-4.2" stroke="#111" stroke-width="1.1" fill="none"/>
<path d="M44.4 254.4H339.7V471.4" stroke="#333" stroke-width="1.1" fill="none"/>
<path d="M44.4 254.4V471.4H339.7" stroke="#111" stroke-width="1.5" fill="none"/>
<path d="M44.4 471.4v3.8M57.5 471.4v2.8M70.6 471.4v2.8M83.7 471.4v2.8M96.8 471.4v2.8M109.9 471.4v3.8M123.0 471.4v2.8M136.1 471.4v2.8M149.2 471.4v2.8M162.3 471.4v2.8M175.4 471.4v3.8M188.5 471.4v2.8M201.6 471.4v2.8M214.7 471.4v2.8M227.8 471.4v2.8M240.9 471.4v3.8M254.0 471.4v2.8M267.1 471.4v2.8M280.2 471.4v2.8M293.3 471.4v2.8M306.4 471.4v3.8M319.5 471.4v2.8M332.6 471.4v2.8M44.4 471.4h-4.2M44.4 464.2h-3.2M44.4 456.9h-3.2M44.4 449.7h-3.2M44.4 442.5h-3.2M44.4 435.3h-4.2M44.4 428.0h-3.2M44.4 420.8h-3.2M44.4 413.6h-3.2M44.4 406.3h-3.2M44.4 399.1h-4.2M44.4 391.9h-3.2M44.4 384.7h-3.2M44.4 377.4h-3.2M44.4 370.2h-3.2M44.4 363.0h-4.2M44.4 355.8h-3.2M44.4 348.5h-3.2M44.4 341.3h-3.2M44.4 334.1h-3.2M44.4 326.8h-4.2M44.4 319.6h-3.2M44.4 312.4h-3.2M44.4 305.2h-3.2M44.4 297.9h-3.2M44.4 290.7h-4.2M44.4 283.5h-3.2M44.4 276.2h-3.2M44.4 269.0h-3.2M44.4 261.8h-3.2M44.4 254.6h-4.2" stroke="#111" stroke-width="1.1" fill="none"/>
<path d="M382.3 254.7H678.5V470.9" stroke="#333" stroke-width="1.1" fill="none"/>
<path d="M382.3 254.7V470.9H678.5" stroke="#111" stroke-width="1.5" fill="none"/>
<path d="M382.3 470.9v3.8M402.0 470.9v2.8M421.6 470.9v2.8M441.3 470.9v2.8M460.9 470.9v2.8M480.6 470.9v3.8M500.3 470.9v2.8M519.9 470.9v2.8M539.6 470.9v2.8M559.2 470.9v2.8M578.9 470.9v3.8M598.6 470.9v2.8M618.2 470.9v2.8M637.9 470.9v2.8M657.5 470.9v2.8M677.2 470.9v3.8M382.3 470.9h-4.2M382.3 463.7h-3.2M382.3 456.5h-3.2M382.3 449.3h-3.2M382.3 442.2h-3.2M382.3 435.0h-4.2M382.3 427.8h-3.2M382.3 420.6h-3.2M382.3 413.4h-3.2M382.3 406.2h-3.2M382.3 399.0h-4.2M382.3 391.9h-3.2M382.3 384.7h-3.2M382.3 377.5h-3.2M382.3 370.3h-3.2M382.3 363.1h-4.2M382.3 355.9h-3.2M382.3 348.7h-3.2M382.3 341.6h-3.2M382.3 334.4h-3.2M382.3 327.2h-4.2M382.3 320.0h-3.2M382.3 312.8h-3.2M382.3 305.6h-3.2M382.3 298.4h-3.2M382.3 291.2h-4.2M382.3 284.1h-3.2M382.3 276.9h-3.2M382.3 269.7h-3.2M382.3 262.5h-3.2M382.3 255.3h-4.2" stroke="#111" stroke-width="1.1" fill="none"/>
<text x="384.5" y="233.4" font-size="11" fill="#222" text-anchor="middle">40</text>
<text x="450.1" y="233.4" font-size="11" fill="#222" text-anchor="middle">50</text>
<text x="515.7" y="233.4" font-size="11" fill="#222" text-anchor="middle">60</text>
<text x="581.3" y="233.4" font-size="11" fill="#222" text-anchor="middle">70</text>
<text x="646.9" y="233.4" font-size="11" fill="#222" text-anchor="middle">80</text>
<text x="372.8" y="217.3" font-size="11" fill="#222" text-anchor="end">0</text>
<text x="372.8" y="182.5" font-size="11" fill="#222" text-anchor="end">10</text>
<text x="372.8" y="147.8" font-size="11" fill="#222" text-anchor="end">20</text>
<text x="372.8" y="113.0" font-size="11" fill="#222" text-anchor="end">30</text>
<text x="372.8" y="78.2" font-size="11" fill="#222" text-anchor="end">40</text>
<text x="372.8" y="43.5" font-size="11" fill="#222" text-anchor="end">50</text>
<text x="372.8" y="8.7" font-size="11" fill="#222" text-anchor="end">60</text>
<text x="44.4" y="492.5" font-size="11" fill="#222" text-anchor="middle">40</text>
<text x="109.9" y="492.5" font-size="11" fill="#222" text-anchor="middle">50</text>
<text x="175.4" y="492.5" font-size="11" fill="#222" text-anchor="middle">60</text>
<text x="240.9" y="492.5" font-size="11" fill="#222" text-anchor="middle">70</text>
<text x="306.4" y="492.5" font-size="11" fill="#222" text-anchor="middle">80</text>
<text x="32.6" y="468.1" font-size="11" fill="#222" text-anchor="end">0</text>
<text x="32.6" y="439.2" font-size="11" fill="#222" text-anchor="end">0.2</text>
<text x="32.6" y="403.0" font-size="11" fill="#222" text-anchor="end">0.4</text>
<text x="32.6" y="366.9" font-size="11" fill="#222" text-anchor="end">0.6</text>
<text x="32.6" y="330.7" font-size="11" fill="#222" text-anchor="end">0.8</text>
<text x="32.6" y="294.6" font-size="11" fill="#222" text-anchor="end">1</text>
<text x="32.6" y="258.5" font-size="11" fill="#222" text-anchor="end">1.2</text>
<text x="382.3" y="492.0" font-size="11" fill="#222" text-anchor="middle">0</text>
<text x="480.6" y="492.0" font-size="11" fill="#222" text-anchor="middle">5</text>
<text x="578.9" y="492.0" font-size="11" fill="#222" text-anchor="middle">10</text>
<text x="677.2" y="492.0" font-size="11" fill="#222" text-anchor="middle">15</text>
<text x="370.6" y="474.8" font-size="11" fill="#222" text-anchor="end">0</text>
<text x="370.6" y="438.9" font-size="11" fill="#222" text-anchor="end">1</text>
<text x="370.6" y="402.9" font-size="11" fill="#222" text-anchor="end">2</text>
<text x="370.6" y="367.0" font-size="11" fill="#222" text-anchor="end">3</text>
<text x="370.6" y="331.1" font-size="11" fill="#222" text-anchor="end">4</text>
<text x="370.6" y="295.1" font-size="11" fill="#222" text-anchor="end">5</text>
<text x="370.6" y="259.2" font-size="11" fill="#222" text-anchor="end">6</text>
<text x="492" y="245.6" font-size="13" fill="#222" text-anchor="start" textLength="22" lengthAdjust="spacingAndGlyphs">SiO</text>
<text x="514.5" y="249.5" font-size="9" fill="#222" text-anchor="start">2</text>
<text x="523" y="245.6" font-size="13" fill="#222" text-anchor="start" textLength="43" lengthAdjust="spacingAndGlyphs">(wt.%)</text>
<text x="354.2" y="107.8" font-size="12" fill="#222" text-anchor="middle" textLength="23.5" lengthAdjust="spacingAndGlyphs" transform="rotate(-90 354.2 107.8)">Mg#</text>
<text x="161.2" y="507.2" font-size="13" fill="#222" text-anchor="start" textLength="21.5" lengthAdjust="spacingAndGlyphs">SiO</text>
<text x="182" y="511.5" font-size="9" fill="#222" text-anchor="start">2</text>
<text x="193.5" y="507.2" font-size="13" fill="#222" text-anchor="start" textLength="41" lengthAdjust="spacingAndGlyphs">(wt.%)</text>
<text x="11" y="362.2" font-size="12" fill="#222" text-anchor="middle" textLength="68.3" lengthAdjust="spacingAndGlyphs" transform="rotate(-90 11 362.2)">(Na + K) / Al</text>
<text x="495.2" y="505.0" font-size="12" fill="#222" text-anchor="start" textLength="72.2" lengthAdjust="spacingAndGlyphs">Al/Fe (mol%)</text>
<text x="357.6" y="362.5" font-size="12.5" fill="#222" text-anchor="middle" textLength="72" lengthAdjust="spacingAndGlyphs" transform="rotate(-90 357.6 362.5)">Na/K (mol%)</text>
<text x="318.7" y="32.4" font-size="17" fill="#111" text-anchor="middle">a</text>
<text x="399" y="31.6" font-size="17" fill="#111" text-anchor="middle">c</text>
<text x="325.5" y="275.5" font-size="17" fill="#111" text-anchor="middle">b</text>
<text x="657" y="281.5" font-size="17" fill="#111" text-anchor="middle">d</text>
<rect x="578.4" y="9.3" width="96.6" height="64.7" fill="#fff" stroke="#333" stroke-width="1"/>
<path d="M588.4 13.2L593.2 21.6L583.6 21.6Z" fill="#1D8A87" stroke="#000" stroke-width="0.9"/>
<circle cx="588.1" cy="33.9" r="4.70" fill="#9EDFC0" stroke="#000" stroke-width="0.9"/>
<path d="M588.6 44.9L593.3 49.6L588.6 54.3L583.9 49.6Z" fill="#3B0A57" stroke="#000" stroke-width="0.8"/>
<rect x="583.6" y="60.5" width="9.0" height="9.0" fill="#30668F" stroke="#000" stroke-width="0.9"/>
<text x="596.5" y="21.3" font-size="11" fill="#222" text-anchor="start" textLength="54.8" lengthAdjust="spacingAndGlyphs">Vestrahorn</text>
<text x="597.2" y="37.9" font-size="11" fill="#222" text-anchor="start" textLength="54.4" lengthAdjust="spacingAndGlyphs">Eystrahorn</text>
<text x="597.2" y="53.9" font-size="11" fill="#222" text-anchor="start" textLength="62.4" lengthAdjust="spacingAndGlyphs">Slaufrudalur</text>
<text x="597.2" y="70.0" font-size="11" fill="#222" text-anchor="start" textLength="72.8" lengthAdjust="spacingAndGlyphs">Ketillaugarfjall</text>
<rect x="238.7" y="420.2" width="98.5" height="48" fill="#fff" stroke="#333" stroke-width="1"/>
<circle cx="246.5" cy="432.6" r="2.30" fill="#FFEE00" stroke="#000" stroke-width="0.8"/>
<path d="M244.2 444.3L250.4 450.5M250.4 444.3L244.2 450.5" stroke="#FFC000" stroke-width="2.0" fill="none"/>
<path d="M244.2 456.5L250.4 462.7M250.4 456.5L244.2 462.7" stroke="#8a8a8a" stroke-width="2.0" fill="none"/>
<text x="255.6" y="432.0" font-size="11" fill="#222" text-anchor="start" textLength="76.4" lengthAdjust="spacingAndGlyphs">Reyðarártindur</text>
<text x="255.6" y="439.2" font-size="6" fill="#222" text-anchor="start" textLength="70" lengthAdjust="spacingAndGlyphs">(Rhodes et. al., 2021)</text>
<text x="255.6" y="450.9" font-size="11" fill="#222" text-anchor="start" textLength="29.8" lengthAdjust="spacingAndGlyphs">Krafla</text>
<text x="255.6" y="463.0" font-size="11" fill="#222" text-anchor="start" textLength="58.3" lengthAdjust="spacingAndGlyphs">Öræfajökull</text>
</svg></body></html>
